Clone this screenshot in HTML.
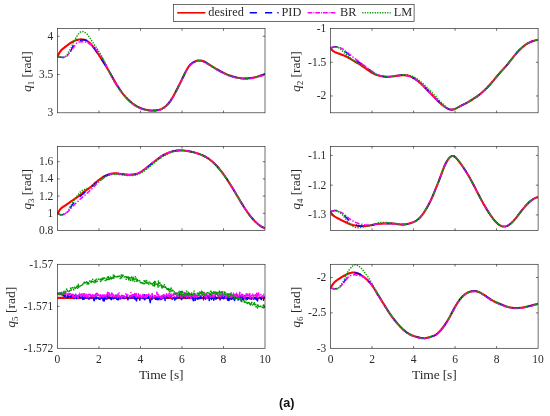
<!DOCTYPE html>
<html><head><meta charset="utf-8"><title>figure</title>
<style>html,body{margin:0;padding:0;background:#fff;}svg{display:block;}text{font-family:"Liberation Serif", "DejaVu Serif", serif;fill:#2b2b2b;}</style>
</head><body>
<svg width="550" height="416" viewBox="0 0 550 416">
<rect x="0" y="0" width="550" height="416" fill="#ffffff"/>
<clipPath id="cq1"><rect x="57.25" y="28.40" width="207.95" height="84.60"/></clipPath>
<g clip-path="url(#cq1)" fill="none" stroke-linejoin="round">
<path d="M57.45,56.54 L58.25,54.92 L59.05,53.37 L59.85,52.01 L60.66,50.94 L61.46,50.09 L62.26,49.33 L63.06,48.62 L63.86,47.95 L64.66,47.31 L65.46,46.70 L66.26,46.09 L67.07,45.48 L67.87,44.88 L68.67,44.29 L69.47,43.72 L70.27,43.20 L71.07,42.71 L71.87,42.24 L72.68,41.78 L73.48,41.34 L74.28,40.94 L75.08,40.60 L75.88,40.32 L76.68,40.09 L77.48,39.89 L78.29,39.71 L79.09,39.56 L79.89,39.46 L80.69,39.41 L81.49,39.41 L82.29,39.47 L83.09,39.58 L83.89,39.71 L84.70,39.86 L85.50,40.08 L86.30,40.41 L87.10,40.89 L87.90,41.48 L88.70,42.14 L89.50,42.85 L90.31,43.59 L91.11,44.40 L91.91,45.29 L92.71,46.26 L93.51,47.29 L94.31,48.38 L95.11,49.51 L95.91,50.67 L96.72,51.86 L97.52,53.06 L98.32,54.27 L99.12,55.46 L99.92,56.66 L100.72,57.86 L101.52,59.09 L102.33,60.33 L103.13,61.58 L103.93,62.85 L104.73,64.14 L105.53,65.44 L106.33,66.76 L107.13,68.09 L107.94,69.43 L108.74,70.80 L109.54,72.17 L110.34,73.57 L111.14,74.97 L111.94,76.38 L112.74,77.79 L113.54,79.20 L114.35,80.60 L115.15,81.99 L115.95,83.36 L116.75,84.70 L117.55,86.02 L118.35,87.30 L119.15,88.54 L119.96,89.74 L120.76,90.89 L121.56,92.00 L122.36,93.07 L123.16,94.09 L123.96,95.08 L124.76,96.02 L125.56,96.93 L126.37,97.80 L127.17,98.64 L127.97,99.44 L128.77,100.21 L129.57,100.95 L130.37,101.65 L131.17,102.33 L131.98,102.97 L132.78,103.59 L133.58,104.17 L134.38,104.73 L135.18,105.25 L135.98,105.75 L136.78,106.22 L137.59,106.66 L138.39,107.07 L139.19,107.46 L139.99,107.82 L140.79,108.16 L141.59,108.47 L142.39,108.75 L143.19,109.02 L144.00,109.26 L144.80,109.47 L145.60,109.67 L146.40,109.84 L147.20,110.00 L148.00,110.13 L148.80,110.25 L149.61,110.35 L150.41,110.42 L151.21,110.48 L152.01,110.53 L152.81,110.55 L153.61,110.55 L154.41,110.53 L155.21,110.48 L156.02,110.40 L156.82,110.29 L157.62,110.15 L158.42,109.97 L159.22,109.75 L160.02,109.49 L160.82,109.19 L161.63,108.85 L162.43,108.45 L163.23,108.00 L164.03,107.49 L164.83,106.92 L165.63,106.29 L166.43,105.59 L167.24,104.81 L168.04,103.95 L168.84,103.02 L169.64,102.00 L170.44,100.89 L171.24,99.68 L172.04,98.40 L172.84,97.04 L173.65,95.62 L174.45,94.14 L175.25,92.63 L176.05,91.10 L176.85,89.55 L177.65,87.99 L178.45,86.41 L179.26,84.83 L180.06,83.23 L180.86,81.62 L181.66,79.99 L182.46,78.34 L183.26,76.67 L184.06,75.01 L184.86,73.36 L185.67,71.77 L186.47,70.25 L187.27,68.84 L188.07,67.55 L188.87,66.41 L189.67,65.43 L190.47,64.58 L191.28,63.85 L192.08,63.22 L192.88,62.68 L193.68,62.21 L194.48,61.79 L195.28,61.41 L196.08,61.09 L196.89,60.83 L197.69,60.63 L198.49,60.49 L199.29,60.43 L200.09,60.44 L200.89,60.53 L201.69,60.70 L202.49,60.93 L203.30,61.22 L204.10,61.56 L204.90,61.94 L205.70,62.37 L206.50,62.83 L207.30,63.31 L208.10,63.81 L208.91,64.33 L209.71,64.85 L210.51,65.36 L211.31,65.88 L212.11,66.38 L212.91,66.88 L213.71,67.38 L214.51,67.87 L215.32,68.35 L216.12,68.83 L216.92,69.30 L217.72,69.77 L218.52,70.22 L219.32,70.67 L220.12,71.11 L220.93,71.54 L221.73,71.96 L222.53,72.38 L223.33,72.78 L224.13,73.17 L224.93,73.55 L225.73,73.92 L226.54,74.28 L227.34,74.62 L228.14,74.95 L228.94,75.26 L229.74,75.56 L230.54,75.84 L231.34,76.11 L232.14,76.36 L232.95,76.59 L233.75,76.81 L234.55,77.02 L235.35,77.21 L236.15,77.38 L236.95,77.55 L237.75,77.70 L238.56,77.84 L239.36,77.96 L240.16,78.07 L240.96,78.17 L241.76,78.26 L242.56,78.33 L243.36,78.38 L244.16,78.42 L244.97,78.45 L245.77,78.46 L246.57,78.44 L247.37,78.41 L248.17,78.37 L248.97,78.30 L249.77,78.22 L250.58,78.12 L251.38,78.00 L252.18,77.87 L252.98,77.73 L253.78,77.57 L254.58,77.39 L255.38,77.21 L256.19,77.00 L256.99,76.79 L257.79,76.56 L258.59,76.32 L259.39,76.07 L260.19,75.81 L260.99,75.54 L261.79,75.26 L262.60,74.97 L263.40,74.67 L264.20,74.36 L265.00,74.05" stroke="#ff0000" stroke-width="2.10"/>
<path d="M57.45,56.54 L58.25,56.75 L59.05,56.94 L59.85,57.11 L60.66,57.25 L61.46,57.35 L62.26,57.42 L63.06,57.40 L63.86,57.28 L64.66,57.09 L65.46,56.91 L66.26,56.54 L67.07,55.78 L67.87,54.86 L68.67,53.84 L69.47,52.65 L70.27,51.40 L71.07,50.05 L71.87,48.50 L72.68,47.01 L73.48,45.75 L74.28,44.62 L75.08,43.64 L75.88,42.86 L76.68,42.22 L77.48,41.68 L78.29,41.23 L79.09,40.88 L79.89,40.60 L80.69,40.34 L81.49,40.12 L82.29,39.96 L83.09,39.86 L83.89,39.86 L84.70,39.97 L85.50,40.23 L86.30,40.60 L87.10,41.08 L87.90,41.63 L88.70,42.24 L89.50,42.89 L90.31,43.57 L91.11,44.33 L91.91,45.20 L92.71,46.15 L93.51,47.18 L94.31,48.28 L95.11,49.42 L95.91,50.60 L96.72,51.81 L97.52,53.03 L98.32,54.25 L99.12,55.46 L99.92,56.66 L100.72,57.87 L101.52,59.10 L102.33,60.34 L103.13,61.59 L103.93,62.86 L104.73,64.15 L105.53,65.45 L106.33,66.76 L107.13,68.09 L107.94,69.44 L108.74,70.80 L109.54,72.17 L110.34,73.56 L111.14,74.97 L111.94,76.38 L112.74,77.79 L113.54,79.20 L114.35,80.60 L115.15,81.99 L115.95,83.36 L116.75,84.70 L117.55,86.02 L118.35,87.30 L119.15,88.54 L119.96,89.74 L120.76,90.89 L121.56,92.00 L122.36,93.07 L123.16,94.09 L123.96,95.08 L124.76,96.02 L125.56,96.93 L126.37,97.80 L127.17,98.64 L127.97,99.44 L128.77,100.21 L129.57,100.95 L130.37,101.65 L131.17,102.33 L131.98,102.97 L132.78,103.59 L133.58,104.17 L134.38,104.73 L135.18,105.25 L135.98,105.75 L136.78,106.22 L137.59,106.66 L138.39,107.07 L139.19,107.46 L139.99,107.82 L140.79,108.16 L141.59,108.47 L142.39,108.75 L143.19,109.02 L144.00,109.26 L144.80,109.47 L145.60,109.67 L146.40,109.84 L147.20,110.00 L148.00,110.13 L148.80,110.25 L149.61,110.35 L150.41,110.42 L151.21,110.48 L152.01,110.53 L152.81,110.55 L153.61,110.55 L154.41,110.53 L155.21,110.48 L156.02,110.40 L156.82,110.29 L157.62,110.15 L158.42,109.97 L159.22,109.75 L160.02,109.49 L160.82,109.19 L161.63,108.85 L162.43,108.45 L163.23,108.00 L164.03,107.49 L164.83,106.92 L165.63,106.29 L166.43,105.59 L167.24,104.81 L168.04,103.95 L168.84,103.02 L169.64,102.00 L170.44,100.89 L171.24,99.68 L172.04,98.40 L172.84,97.04 L173.65,95.62 L174.45,94.14 L175.25,92.63 L176.05,91.10 L176.85,89.55 L177.65,87.99 L178.45,86.41 L179.26,84.83 L180.06,83.23 L180.86,81.62 L181.66,79.99 L182.46,78.34 L183.26,76.67 L184.06,75.01 L184.86,73.36 L185.67,71.77 L186.47,70.25 L187.27,68.84 L188.07,67.55 L188.87,66.41 L189.67,65.43 L190.47,64.58 L191.28,63.85 L192.08,63.22 L192.88,62.68 L193.68,62.21 L194.48,61.79 L195.28,61.41 L196.08,61.09 L196.89,60.83 L197.69,60.63 L198.49,60.49 L199.29,60.43 L200.09,60.44 L200.89,60.53 L201.69,60.70 L202.49,60.93 L203.30,61.22 L204.10,61.56 L204.90,61.94 L205.70,62.37 L206.50,62.83 L207.30,63.31 L208.10,63.81 L208.91,64.33 L209.71,64.85 L210.51,65.36 L211.31,65.88 L212.11,66.38 L212.91,66.88 L213.71,67.38 L214.51,67.87 L215.32,68.35 L216.12,68.83 L216.92,69.30 L217.72,69.77 L218.52,70.22 L219.32,70.67 L220.12,71.11 L220.93,71.54 L221.73,71.96 L222.53,72.38 L223.33,72.78 L224.13,73.17 L224.93,73.55 L225.73,73.92 L226.54,74.28 L227.34,74.62 L228.14,74.95 L228.94,75.26 L229.74,75.56 L230.54,75.84 L231.34,76.11 L232.14,76.36 L232.95,76.59 L233.75,76.81 L234.55,77.02 L235.35,77.21 L236.15,77.38 L236.95,77.55 L237.75,77.70 L238.56,77.84 L239.36,77.96 L240.16,78.07 L240.96,78.17 L241.76,78.26 L242.56,78.33 L243.36,78.38 L244.16,78.42 L244.97,78.45 L245.77,78.46 L246.57,78.44 L247.37,78.41 L248.17,78.37 L248.97,78.30 L249.77,78.22 L250.58,78.12 L251.38,78.00 L252.18,77.87 L252.98,77.73 L253.78,77.57 L254.58,77.39 L255.38,77.21 L256.19,77.00 L256.99,76.79 L257.79,76.56 L258.59,76.32 L259.39,76.07 L260.19,75.81 L260.99,75.54 L261.79,75.26 L262.60,74.97 L263.40,74.67 L264.20,74.36 L265.00,74.05" stroke="#0000ff" stroke-width="1.50" stroke-dasharray="7.2 8.1"/>
<path d="M57.45,56.54 L58.25,56.74 L59.05,56.93 L59.85,57.09 L60.66,57.22 L61.46,57.33 L62.26,57.42 L63.06,57.44 L63.86,57.38 L64.66,57.24 L65.46,57.06 L66.26,56.69 L67.07,55.96 L67.87,54.97 L68.67,53.88 L69.47,52.87 L70.27,51.91 L71.07,50.93 L71.87,49.91 L72.68,48.78 L73.48,47.53 L74.28,46.26 L75.08,45.09 L75.88,44.08 L76.68,43.26 L77.48,42.69 L78.29,42.37 L79.09,42.13 L79.89,41.92 L80.69,41.79 L81.49,41.74 L82.29,41.73 L83.09,41.75 L83.89,41.81 L84.70,41.91 L85.50,42.07 L86.30,42.31 L87.10,42.63 L87.90,43.02 L88.70,43.47 L89.50,43.95 L90.31,44.45 L91.11,44.96 L91.91,45.49 L92.71,46.11 L93.51,46.82 L94.31,47.61 L95.11,48.44 L95.91,49.32 L96.72,50.22 L97.52,51.16 L98.32,52.16 L99.12,53.23 L99.92,54.36 L100.72,55.55 L101.52,56.79 L102.33,58.08 L103.13,59.42 L103.93,60.78 L104.73,62.20 L105.53,63.76 L106.33,65.43 L107.13,67.19 L107.94,68.99 L108.74,70.80 L109.54,72.58 L110.34,74.28 L111.14,75.92 L111.94,77.47 L112.74,78.96 L113.54,80.39 L114.35,81.76 L115.15,83.08 L115.95,84.35 L116.75,85.58 L117.55,86.77 L118.35,87.93 L119.15,89.07 L119.96,90.18 L120.76,91.27 L121.56,92.34 L122.36,93.39 L123.16,94.41 L123.96,95.40 L124.76,96.36 L125.56,97.30 L126.37,98.20 L127.17,99.07 L127.97,99.90 L128.77,100.70 L129.57,101.46 L130.37,102.18 L131.17,102.87 L131.98,103.52 L132.78,104.13 L133.58,104.71 L134.38,105.26 L135.18,105.78 L135.98,106.27 L136.78,106.73 L137.59,107.17 L138.39,107.57 L139.19,107.96 L139.99,108.31 L140.79,108.65 L141.59,108.95 L142.39,109.24 L143.19,109.50 L144.00,109.75 L144.80,109.96 L145.60,110.16 L146.40,110.34 L147.20,110.49 L148.00,110.63 L148.80,110.75 L149.61,110.84 L150.41,110.92 L151.21,110.98 L152.01,111.02 L152.81,111.05 L153.61,111.05 L154.41,111.02 L155.21,110.97 L156.02,110.90 L156.82,110.79 L157.62,110.64 L158.42,110.46 L159.22,110.25 L160.02,109.99 L160.82,109.69 L161.63,109.34 L162.43,108.95 L163.23,108.50 L164.03,107.99 L164.83,107.42 L165.63,106.79 L166.43,106.08 L167.24,105.31 L168.04,104.45 L168.84,103.52 L169.64,102.49 L170.44,101.38 L171.24,100.18 L172.04,98.89 L172.84,97.53 L173.65,96.11 L174.45,94.64 L175.25,93.13 L176.05,91.60 L176.85,90.04 L177.65,88.48 L178.45,86.91 L179.26,85.33 L180.06,83.73 L180.86,82.12 L181.66,80.49 L182.46,78.84 L183.26,77.17 L184.06,75.50 L184.86,73.86 L185.67,72.27 L186.47,70.75 L187.27,69.34 L188.07,68.05 L188.87,66.91 L189.67,65.92 L190.47,65.08 L191.28,64.35 L192.08,63.72 L192.88,63.18 L193.68,62.70 L194.48,62.28 L195.28,61.91 L196.08,61.59 L196.89,61.33 L197.69,61.12 L198.49,60.99 L199.29,60.93 L200.09,60.94 L200.89,61.03 L201.69,61.19 L202.49,61.42 L203.30,61.71 L204.10,62.05 L204.90,62.44 L205.70,62.87 L206.50,63.33 L207.30,63.81 L208.10,64.31 L208.91,64.83 L209.71,65.34 L210.51,65.86 L211.31,66.37 L212.11,66.88 L212.91,67.38 L213.71,67.88 L214.51,68.37 L215.32,68.85 L216.12,69.33 L216.92,69.80 L217.72,70.26 L218.52,70.72 L219.32,71.17 L220.12,71.61 L220.93,72.04 L221.73,72.46 L222.53,72.88 L223.33,73.28 L224.13,73.67 L224.93,74.05 L225.73,74.42 L226.54,74.77 L227.34,75.12 L228.14,75.44 L228.94,75.76 L229.74,76.05 L230.54,76.34 L231.34,76.60 L232.14,76.85 L232.95,77.09 L233.75,77.31 L234.55,77.51 L235.35,77.71 L236.15,77.88 L236.95,78.05 L237.75,78.20 L238.56,78.33 L239.36,78.46 L240.16,78.57 L240.96,78.67 L241.76,78.75 L242.56,78.82 L243.36,78.88 L244.16,78.92 L244.97,78.95 L245.77,78.95 L246.57,78.94 L247.37,78.91 L248.17,78.86 L248.97,78.80 L249.77,78.72 L250.58,78.62 L251.38,78.50 L252.18,78.37 L252.98,78.23 L253.78,78.07 L254.58,77.89 L255.38,77.70 L256.19,77.50 L256.99,77.29 L257.79,77.06 L258.59,76.82 L259.39,76.57 L260.19,76.31 L260.99,76.04 L261.79,75.76 L262.60,75.47 L263.40,75.17 L264.20,74.86 L265.00,74.54" stroke="#ff00ff" stroke-width="1.50" stroke-dasharray="4.8 1.6 1.4 1.6"/>
<path d="M57.45,56.54 L58.25,56.73 L59.05,56.91 L59.85,57.07 L60.66,57.19 L61.46,57.30 L62.26,57.35 L63.06,57.28 L63.86,57.15 L64.66,56.96 L65.46,56.50 L66.26,55.72 L67.07,54.65 L67.87,53.31 L68.67,51.87 L69.47,50.57 L70.27,49.27 L71.07,47.80 L71.87,46.06 L72.68,44.26 L73.48,42.57 L74.28,40.95 L75.08,39.41 L75.88,37.98 L76.68,36.66 L77.48,35.40 L78.29,34.17 L79.09,33.17 L79.89,32.45 L80.69,31.92 L81.49,31.60 L82.29,31.51 L83.09,31.63 L83.89,31.90 L84.70,32.30 L85.50,32.81 L86.30,33.41 L87.10,34.14 L87.90,35.09 L88.70,36.22 L89.50,37.45 L90.31,38.69 L91.11,39.90 L91.91,41.08 L92.71,42.27 L93.51,43.49 L94.31,44.70 L95.11,45.89 L95.91,47.04 L96.72,48.17 L97.52,49.32 L98.32,50.53 L99.12,51.82 L99.92,53.17 L100.72,54.59 L101.52,56.07 L102.33,57.59 L103.13,59.16 L103.93,60.75 L104.73,62.37 L105.53,64.00 L106.33,65.65 L107.13,67.29 L107.94,68.92 L108.74,70.53 L109.54,72.12 L110.34,73.68 L111.14,75.20 L111.94,76.69 L112.74,78.14 L113.54,79.56 L114.35,80.95 L115.15,82.30 L115.95,83.62 L116.75,84.90 L117.55,86.15 L118.35,87.37 L119.15,88.56 L119.96,89.71 L120.76,90.83 L121.56,91.92 L122.36,92.97 L123.16,94.00 L123.96,94.99 L124.76,95.94 L125.56,96.86 L126.37,97.75 L127.17,98.60 L127.97,99.42 L128.77,100.21 L129.57,100.96 L130.37,101.67 L131.17,102.35 L131.98,103.00 L132.78,103.61 L133.58,104.19 L134.38,104.75 L135.18,105.27 L135.98,105.76 L136.78,106.23 L137.59,106.67 L138.39,107.08 L139.19,107.46 L139.99,107.82 L140.79,108.15 L141.59,108.46 L142.39,108.75 L143.19,109.01 L144.00,109.25 L144.80,109.47 L145.60,109.67 L146.40,109.84 L147.20,110.00 L148.00,110.13 L148.80,110.25 L149.61,110.35 L150.41,110.42 L151.21,110.48 L152.01,110.53 L152.81,110.55 L153.61,110.55 L154.41,110.53 L155.21,110.48 L156.02,110.40 L156.82,110.29 L157.62,110.15 L158.42,109.97 L159.22,109.75 L160.02,109.49 L160.82,109.19 L161.63,108.85 L162.43,108.45 L163.23,108.00 L164.03,107.49 L164.83,106.92 L165.63,106.29 L166.43,105.59 L167.24,104.81 L168.04,103.95 L168.84,103.02 L169.64,102.00 L170.44,100.89 L171.24,99.68 L172.04,98.40 L172.84,97.04 L173.65,95.62 L174.45,94.14 L175.25,92.63 L176.05,91.10 L176.85,89.55 L177.65,87.99 L178.45,86.41 L179.26,84.83 L180.06,83.23 L180.86,81.62 L181.66,79.99 L182.46,78.34 L183.26,76.67 L184.06,75.01 L184.86,73.36 L185.67,71.77 L186.47,70.25 L187.27,68.84 L188.07,67.55 L188.87,66.41 L189.67,65.43 L190.47,64.58 L191.28,63.85 L192.08,63.22 L192.88,62.68 L193.68,62.21 L194.48,61.79 L195.28,61.41 L196.08,61.09 L196.89,60.83 L197.69,60.63 L198.49,60.49 L199.29,60.43 L200.09,60.44 L200.89,60.53 L201.69,60.70 L202.49,60.93 L203.30,61.22 L204.10,61.56 L204.90,61.94 L205.70,62.37 L206.50,62.83 L207.30,63.31 L208.10,63.81 L208.91,64.33 L209.71,64.85 L210.51,65.36 L211.31,65.88 L212.11,66.38 L212.91,66.88 L213.71,67.38 L214.51,67.87 L215.32,68.35 L216.12,68.83 L216.92,69.30 L217.72,69.77 L218.52,70.22 L219.32,70.67 L220.12,71.11 L220.93,71.54 L221.73,71.96 L222.53,72.38 L223.33,72.78 L224.13,73.17 L224.93,73.55 L225.73,73.92 L226.54,74.28 L227.34,74.62 L228.14,74.95 L228.94,75.26 L229.74,75.56 L230.54,75.84 L231.34,76.11 L232.14,76.36 L232.95,76.59 L233.75,76.81 L234.55,77.02 L235.35,77.21 L236.15,77.38 L236.95,77.55 L237.75,77.70 L238.56,77.84 L239.36,77.96 L240.16,78.07 L240.96,78.17 L241.76,78.26 L242.56,78.33 L243.36,78.38 L244.16,78.42 L244.97,78.45 L245.77,78.46 L246.57,78.44 L247.37,78.41 L248.17,78.37 L248.97,78.30 L249.77,78.22 L250.58,78.12 L251.38,78.00 L252.18,77.87 L252.98,77.73 L253.78,77.57 L254.58,77.39 L255.38,77.21 L256.19,77.00 L256.99,76.79 L257.79,76.56 L258.59,76.32 L259.39,76.07 L260.19,75.81 L260.99,75.54 L261.79,75.26 L262.60,74.97 L263.40,74.67 L264.20,74.36 L265.00,74.05" stroke="#009a00" stroke-width="1.50" stroke-dasharray="1.3 1.3"/>
</g>
<g stroke="#262626" stroke-width="0.67" fill="none">
<rect x="57.45" y="28.60" width="207.55" height="84.20"/>
<path d="M98.96,112.80 v-2.20 M98.96,28.60 v2.20 M140.47,112.80 v-2.20 M140.47,28.60 v2.20 M181.98,112.80 v-2.20 M181.98,28.60 v2.20 M223.49,112.80 v-2.20 M223.49,28.60 v2.20 M57.45,74.53 h2.20 M265.00,74.53 h-2.20 M57.45,36.25 h2.20 M265.00,36.25 h-2.20 "/>
</g>
<text x="53.25" y="116.30" font-size="11.5" text-anchor="end">3</text>
<text x="53.25" y="78.03" font-size="11.5" text-anchor="end">3.5</text>
<text x="53.25" y="39.75" font-size="11.5" text-anchor="end">4</text>
<text transform="translate(31.14,71.70) rotate(-90)" font-size="13.5" text-anchor="middle"><tspan font-style="italic">q</tspan><tspan font-size="9" dy="2.5">1</tspan><tspan dy="-2.5"> [rad]</tspan></text>
<clipPath id="cq2"><rect x="330.30" y="28.40" width="208.00" height="84.60"/></clipPath>
<g clip-path="url(#cq2)" fill="none" stroke-linejoin="round">
<path d="M330.50,48.03 L331.30,49.02 L332.10,49.99 L332.90,50.83 L333.71,51.44 L334.51,51.89 L335.31,52.25 L336.11,52.57 L336.91,52.88 L337.71,53.18 L338.52,53.47 L339.32,53.77 L340.12,54.09 L340.92,54.40 L341.72,54.70 L342.52,55.01 L343.32,55.31 L344.13,55.63 L344.93,55.95 L345.73,56.30 L346.53,56.68 L347.33,57.09 L348.13,57.52 L348.94,57.98 L349.74,58.44 L350.54,58.92 L351.34,59.39 L352.14,59.86 L352.94,60.33 L353.74,60.80 L354.55,61.28 L355.35,61.76 L356.15,62.24 L356.95,62.73 L357.75,63.22 L358.55,63.72 L359.36,64.22 L360.16,64.72 L360.96,65.23 L361.76,65.75 L362.56,66.27 L363.36,66.79 L364.16,67.33 L364.97,67.88 L365.77,68.46 L366.57,69.04 L367.37,69.63 L368.17,70.20 L368.97,70.76 L369.78,71.28 L370.58,71.78 L371.38,72.28 L372.18,72.77 L372.98,73.24 L373.78,73.68 L374.58,74.08 L375.39,74.44 L376.19,74.74 L376.99,75.02 L377.79,75.27 L378.59,75.50 L379.39,75.71 L380.20,75.90 L381.00,76.07 L381.80,76.23 L382.60,76.36 L383.40,76.48 L384.20,76.59 L385.01,76.67 L385.81,76.73 L386.61,76.78 L387.41,76.80 L388.21,76.79 L389.01,76.77 L389.81,76.72 L390.62,76.65 L391.42,76.57 L392.22,76.47 L393.02,76.36 L393.82,76.25 L394.62,76.12 L395.43,76.00 L396.23,75.87 L397.03,75.75 L397.83,75.63 L398.63,75.52 L399.43,75.42 L400.23,75.33 L401.04,75.26 L401.84,75.21 L402.64,75.18 L403.44,75.18 L404.24,75.21 L405.04,75.26 L405.85,75.35 L406.65,75.48 L407.45,75.64 L408.25,75.83 L409.05,76.06 L409.85,76.33 L410.65,76.63 L411.46,76.98 L412.26,77.36 L413.06,77.77 L413.86,78.23 L414.66,78.72 L415.46,79.25 L416.27,79.82 L417.07,80.42 L417.87,81.04 L418.67,81.70 L419.47,82.38 L420.27,83.08 L421.07,83.81 L421.88,84.55 L422.68,85.32 L423.48,86.10 L424.28,86.89 L425.08,87.69 L425.88,88.51 L426.69,89.33 L427.49,90.16 L428.29,91.00 L429.09,91.84 L429.89,92.68 L430.69,93.53 L431.49,94.37 L432.30,95.22 L433.10,96.06 L433.90,96.89 L434.70,97.72 L435.50,98.54 L436.30,99.35 L437.11,100.15 L437.91,100.94 L438.71,101.71 L439.51,102.46 L440.31,103.19 L441.11,103.90 L441.91,104.59 L442.72,105.24 L443.52,105.88 L444.32,106.48 L445.12,107.05 L445.92,107.58 L446.72,108.07 L447.53,108.50 L448.33,108.88 L449.13,109.18 L449.93,109.42 L450.73,109.57 L451.53,109.63 L452.33,109.59 L453.14,109.46 L453.94,109.24 L454.74,108.96 L455.54,108.62 L456.34,108.23 L457.14,107.81 L457.95,107.37 L458.75,106.92 L459.55,106.48 L460.35,106.05 L461.15,105.64 L461.95,105.24 L462.75,104.85 L463.56,104.46 L464.36,104.08 L465.16,103.68 L465.96,103.28 L466.76,102.85 L467.56,102.41 L468.37,101.96 L469.17,101.49 L469.97,101.00 L470.77,100.51 L471.57,100.00 L472.37,99.49 L473.17,98.98 L473.98,98.46 L474.78,97.93 L475.58,97.39 L476.38,96.85 L477.18,96.28 L477.98,95.71 L478.79,95.11 L479.59,94.49 L480.39,93.85 L481.19,93.19 L481.99,92.50 L482.79,91.80 L483.59,91.07 L484.40,90.32 L485.20,89.54 L486.00,88.75 L486.80,87.95 L487.60,87.12 L488.40,86.27 L489.21,85.41 L490.01,84.53 L490.81,83.63 L491.61,82.71 L492.41,81.78 L493.21,80.83 L494.02,79.87 L494.82,78.90 L495.62,77.92 L496.42,76.94 L497.22,75.97 L498.02,75.01 L498.82,74.07 L499.63,73.14 L500.43,72.25 L501.23,71.37 L502.03,70.50 L502.83,69.63 L503.63,68.77 L504.44,67.89 L505.24,67.00 L506.04,66.09 L506.84,65.15 L507.64,64.18 L508.44,63.19 L509.24,62.19 L510.05,61.18 L510.85,60.15 L511.65,59.13 L512.45,58.10 L513.25,57.09 L514.05,56.08 L514.86,55.09 L515.66,54.12 L516.46,53.18 L517.26,52.27 L518.06,51.39 L518.86,50.54 L519.66,49.73 L520.47,48.95 L521.27,48.21 L522.07,47.50 L522.87,46.82 L523.67,46.18 L524.47,45.57 L525.28,44.99 L526.08,44.44 L526.88,43.93 L527.68,43.44 L528.48,42.99 L529.28,42.57 L530.08,42.17 L530.89,41.81 L531.69,41.48 L532.49,41.18 L533.29,40.90 L534.09,40.66 L534.89,40.44 L535.70,40.25 L536.50,40.09 L537.30,39.96 L538.10,39.85" stroke="#ff0000" stroke-width="2.10"/>
<path d="M330.50,48.03 L331.30,47.73 L332.10,47.46 L332.90,47.24 L333.71,47.06 L334.51,46.93 L335.31,46.85 L336.11,46.82 L336.91,46.87 L337.71,47.02 L338.52,47.26 L339.32,47.58 L340.12,47.95 L340.92,48.38 L341.72,48.83 L342.52,49.30 L343.32,49.87 L344.13,50.55 L344.93,51.28 L345.73,51.99 L346.53,52.65 L347.33,53.30 L348.13,53.95 L348.94,54.59 L349.74,55.23 L350.54,55.86 L351.34,56.49 L352.14,57.11 L352.94,57.72 L353.74,58.33 L354.55,58.93 L355.35,59.52 L356.15,60.11 L356.95,60.70 L357.75,61.28 L358.55,61.86 L359.36,62.44 L360.16,63.01 L360.96,63.58 L361.76,64.15 L362.56,64.72 L363.36,65.29 L364.16,65.87 L364.97,66.47 L365.77,67.07 L366.57,67.68 L367.37,68.28 L368.17,68.89 L368.97,69.48 L369.78,70.05 L370.58,70.62 L371.38,71.20 L372.18,71.78 L372.98,72.35 L373.78,72.90 L374.58,73.41 L375.39,73.86 L376.19,74.25 L376.99,74.60 L377.79,74.92 L378.59,75.22 L379.39,75.48 L380.20,75.72 L381.00,75.94 L381.80,76.13 L382.60,76.29 L383.40,76.44 L384.20,76.56 L385.01,76.65 L385.81,76.72 L386.61,76.77 L387.41,76.79 L388.21,76.79 L389.01,76.77 L389.81,76.72 L390.62,76.65 L391.42,76.57 L392.22,76.47 L393.02,76.36 L393.82,76.25 L394.62,76.13 L395.43,76.00 L396.23,75.87 L397.03,75.75 L397.83,75.63 L398.63,75.52 L399.43,75.42 L400.23,75.33 L401.04,75.26 L401.84,75.21 L402.64,75.18 L403.44,75.18 L404.24,75.21 L405.04,75.26 L405.85,75.35 L406.65,75.48 L407.45,75.64 L408.25,75.83 L409.05,76.06 L409.85,76.33 L410.65,76.63 L411.46,76.98 L412.26,77.36 L413.06,77.77 L413.86,78.23 L414.66,78.72 L415.46,79.25 L416.27,79.82 L417.07,80.42 L417.87,81.04 L418.67,81.70 L419.47,82.38 L420.27,83.08 L421.07,83.81 L421.88,84.55 L422.68,85.32 L423.48,86.10 L424.28,86.89 L425.08,87.69 L425.88,88.51 L426.69,89.33 L427.49,90.16 L428.29,91.00 L429.09,91.84 L429.89,92.68 L430.69,93.53 L431.49,94.37 L432.30,95.22 L433.10,96.06 L433.90,96.89 L434.70,97.72 L435.50,98.54 L436.30,99.35 L437.11,100.15 L437.91,100.94 L438.71,101.71 L439.51,102.46 L440.31,103.19 L441.11,103.90 L441.91,104.59 L442.72,105.24 L443.52,105.88 L444.32,106.48 L445.12,107.05 L445.92,107.58 L446.72,108.07 L447.53,108.50 L448.33,108.88 L449.13,109.18 L449.93,109.42 L450.73,109.57 L451.53,109.63 L452.33,109.59 L453.14,109.46 L453.94,109.24 L454.74,108.96 L455.54,108.62 L456.34,108.23 L457.14,107.81 L457.95,107.37 L458.75,106.92 L459.55,106.48 L460.35,106.05 L461.15,105.64 L461.95,105.24 L462.75,104.85 L463.56,104.46 L464.36,104.08 L465.16,103.68 L465.96,103.28 L466.76,102.85 L467.56,102.41 L468.37,101.96 L469.17,101.49 L469.97,101.00 L470.77,100.51 L471.57,100.00 L472.37,99.49 L473.17,98.98 L473.98,98.46 L474.78,97.93 L475.58,97.39 L476.38,96.85 L477.18,96.28 L477.98,95.71 L478.79,95.11 L479.59,94.49 L480.39,93.85 L481.19,93.19 L481.99,92.50 L482.79,91.80 L483.59,91.07 L484.40,90.32 L485.20,89.54 L486.00,88.75 L486.80,87.95 L487.60,87.12 L488.40,86.27 L489.21,85.41 L490.01,84.53 L490.81,83.63 L491.61,82.71 L492.41,81.78 L493.21,80.83 L494.02,79.87 L494.82,78.90 L495.62,77.92 L496.42,76.94 L497.22,75.97 L498.02,75.01 L498.82,74.07 L499.63,73.14 L500.43,72.25 L501.23,71.37 L502.03,70.50 L502.83,69.63 L503.63,68.77 L504.44,67.89 L505.24,67.00 L506.04,66.09 L506.84,65.15 L507.64,64.18 L508.44,63.19 L509.24,62.19 L510.05,61.18 L510.85,60.15 L511.65,59.13 L512.45,58.10 L513.25,57.09 L514.05,56.08 L514.86,55.09 L515.66,54.12 L516.46,53.18 L517.26,52.27 L518.06,51.39 L518.86,50.54 L519.66,49.73 L520.47,48.95 L521.27,48.21 L522.07,47.50 L522.87,46.82 L523.67,46.18 L524.47,45.57 L525.28,44.99 L526.08,44.44 L526.88,43.93 L527.68,43.44 L528.48,42.99 L529.28,42.57 L530.08,42.17 L530.89,41.81 L531.69,41.48 L532.49,41.18 L533.29,40.90 L534.09,40.66 L534.89,40.44 L535.70,40.25 L536.50,40.09 L537.30,39.96 L538.10,39.85" stroke="#0000ff" stroke-width="1.50" stroke-dasharray="7.2 8.1"/>
<path d="M330.50,48.03 L331.30,47.73 L332.10,47.47 L332.90,47.24 L333.71,47.06 L334.51,46.92 L335.31,46.83 L336.11,46.78 L336.91,46.82 L337.71,46.94 L338.52,47.14 L339.32,47.40 L340.12,47.72 L340.92,48.08 L341.72,48.46 L342.52,48.86 L343.32,49.35 L344.13,49.95 L344.93,50.61 L345.73,51.26 L346.53,51.90 L347.33,52.54 L348.13,53.18 L348.94,53.84 L349.74,54.49 L350.54,55.15 L351.34,55.79 L352.14,56.43 L352.94,57.05 L353.74,57.67 L354.55,58.28 L355.35,58.90 L356.15,59.50 L356.95,60.11 L357.75,60.71 L358.55,61.31 L359.36,61.91 L360.16,62.50 L360.96,63.09 L361.76,63.67 L362.56,64.26 L363.36,64.85 L364.16,65.45 L364.97,66.05 L365.77,66.66 L366.57,67.28 L367.37,67.89 L368.17,68.50 L368.97,69.10 L369.78,69.68 L370.58,70.26 L371.38,70.85 L372.18,71.44 L372.98,72.02 L373.78,72.58 L374.58,73.10 L375.39,73.57 L376.19,73.98 L376.99,74.36 L377.79,74.70 L378.59,75.02 L379.39,75.31 L380.20,75.57 L381.00,75.81 L381.80,76.02 L382.60,76.20 L383.40,76.37 L384.20,76.50 L385.01,76.61 L385.81,76.70 L386.61,76.76 L387.41,76.79 L388.21,76.79 L389.01,76.77 L389.81,76.73 L390.62,76.66 L391.42,76.58 L392.22,76.48 L393.02,76.37 L393.82,76.25 L394.62,76.13 L395.43,76.00 L396.23,75.87 L397.03,75.74 L397.83,75.63 L398.63,75.51 L399.43,75.41 L400.23,75.33 L401.04,75.26 L401.84,75.21 L402.64,75.18 L403.44,75.18 L404.24,75.21 L405.04,75.26 L405.85,75.35 L406.65,75.48 L407.45,75.64 L408.25,75.83 L409.05,76.06 L409.85,76.33 L410.65,76.63 L411.46,76.98 L412.26,77.36 L413.06,77.77 L413.86,78.23 L414.66,78.72 L415.46,79.25 L416.27,79.82 L417.07,80.42 L417.87,81.04 L418.67,81.70 L419.47,82.38 L420.27,83.08 L421.07,83.81 L421.88,84.55 L422.68,85.32 L423.48,86.10 L424.28,86.89 L425.08,87.69 L425.88,88.51 L426.69,89.33 L427.49,90.16 L428.29,91.00 L429.09,91.84 L429.89,92.68 L430.69,93.53 L431.49,94.37 L432.30,95.22 L433.10,96.06 L433.90,96.89 L434.70,97.72 L435.50,98.54 L436.30,99.35 L437.11,100.15 L437.91,100.94 L438.71,101.71 L439.51,102.46 L440.31,103.19 L441.11,103.90 L441.91,104.59 L442.72,105.24 L443.52,105.88 L444.32,106.48 L445.12,107.05 L445.92,107.58 L446.72,108.07 L447.53,108.50 L448.33,108.88 L449.13,109.18 L449.93,109.42 L450.73,109.57 L451.53,109.63 L452.33,109.59 L453.14,109.46 L453.94,109.24 L454.74,108.96 L455.54,108.62 L456.34,108.23 L457.14,107.81 L457.95,107.37 L458.75,106.92 L459.55,106.48 L460.35,106.05 L461.15,105.64 L461.95,105.24 L462.75,104.85 L463.56,104.46 L464.36,104.08 L465.16,103.68 L465.96,103.28 L466.76,102.85 L467.56,102.41 L468.37,101.96 L469.17,101.49 L469.97,101.00 L470.77,100.51 L471.57,100.00 L472.37,99.49 L473.17,98.98 L473.98,98.46 L474.78,97.93 L475.58,97.39 L476.38,96.85 L477.18,96.28 L477.98,95.71 L478.79,95.11 L479.59,94.49 L480.39,93.85 L481.19,93.19 L481.99,92.50 L482.79,91.80 L483.59,91.07 L484.40,90.32 L485.20,89.54 L486.00,88.75 L486.80,87.95 L487.60,87.12 L488.40,86.27 L489.21,85.41 L490.01,84.53 L490.81,83.63 L491.61,82.71 L492.41,81.78 L493.21,80.83 L494.02,79.87 L494.82,78.90 L495.62,77.92 L496.42,76.94 L497.22,75.97 L498.02,75.01 L498.82,74.07 L499.63,73.14 L500.43,72.25 L501.23,71.37 L502.03,70.50 L502.83,69.63 L503.63,68.77 L504.44,67.89 L505.24,67.00 L506.04,66.09 L506.84,65.15 L507.64,64.18 L508.44,63.19 L509.24,62.19 L510.05,61.18 L510.85,60.15 L511.65,59.13 L512.45,58.10 L513.25,57.09 L514.05,56.08 L514.86,55.09 L515.66,54.12 L516.46,53.18 L517.26,52.27 L518.06,51.39 L518.86,50.54 L519.66,49.73 L520.47,48.95 L521.27,48.21 L522.07,47.50 L522.87,46.82 L523.67,46.18 L524.47,45.57 L525.28,44.99 L526.08,44.44 L526.88,43.93 L527.68,43.44 L528.48,42.99 L529.28,42.57 L530.08,42.17 L530.89,41.81 L531.69,41.48 L532.49,41.18 L533.29,40.90 L534.09,40.66 L534.89,40.44 L535.70,40.25 L536.50,40.09 L537.30,39.96 L538.10,39.85" stroke="#ff00ff" stroke-width="1.50" stroke-dasharray="4.8 1.6 1.4 1.6"/>
<path d="M330.50,48.03 L331.30,47.75 L332.10,47.50 L332.90,47.30 L333.71,47.14 L334.51,47.03 L335.31,46.98 L336.11,46.97 L336.91,47.05 L337.71,47.27 L338.52,47.62 L339.32,48.08 L340.12,48.60 L340.92,49.20 L341.72,49.96 L342.52,50.96 L343.32,51.92 L344.13,52.73 L344.93,53.46 L345.73,54.17 L346.53,54.85 L347.33,55.52 L348.13,56.19 L348.94,56.86 L349.74,57.53 L350.54,58.21 L351.34,58.86 L352.14,59.49 L352.94,60.08 L353.74,60.60 L354.55,61.09 L355.35,61.55 L356.15,61.99 L356.95,62.43 L357.75,62.88 L358.55,63.35 L359.36,63.82 L360.16,64.29 L360.96,64.76 L361.76,65.24 L362.56,65.72 L363.36,66.22 L364.16,66.72 L364.97,67.24 L365.77,67.78 L366.57,68.33 L367.37,68.89 L368.17,69.44 L368.97,69.99 L369.78,70.51 L370.58,71.03 L371.38,71.55 L372.18,72.08 L372.98,72.60 L373.78,73.09 L374.58,73.55 L375.39,73.96 L376.19,74.31 L376.99,74.63 L377.79,74.91 L378.59,75.17 L379.39,75.41 L380.20,75.62 L381.00,75.80 L381.80,75.97 L382.60,76.11 L383.40,76.23 L384.20,76.33 L385.01,76.40 L385.81,76.46 L386.61,76.49 L387.41,76.50 L388.21,76.49 L389.01,76.45 L389.81,76.40 L390.62,76.32 L391.42,76.24 L392.22,76.14 L393.02,76.03 L393.82,75.91 L394.62,75.79 L395.43,75.66 L396.23,75.54 L397.03,75.41 L397.83,75.29 L398.63,75.18 L399.43,75.07 L400.23,74.97 L401.04,74.89 L401.84,74.82 L402.64,74.77 L403.44,74.74 L404.24,74.72 L405.04,74.74 L405.85,74.77 L406.65,74.84 L407.45,74.93 L408.25,75.06 L409.05,75.21 L409.85,75.40 L410.65,75.63 L411.46,75.89 L412.26,76.19 L413.06,76.54 L413.86,76.92 L414.66,77.35 L415.46,77.81 L416.27,78.32 L417.07,78.85 L417.87,79.42 L418.67,80.02 L419.47,80.65 L420.27,81.30 L421.07,81.97 L421.88,82.67 L422.68,83.38 L423.48,84.10 L424.28,84.84 L425.08,85.59 L425.88,86.35 L426.69,87.13 L427.49,87.91 L428.29,88.70 L429.09,89.50 L429.89,90.32 L430.69,91.14 L431.49,91.97 L432.30,92.81 L433.10,93.66 L433.90,94.52 L434.70,95.38 L435.50,96.26 L436.30,97.13 L437.11,98.01 L437.91,98.88 L438.71,99.75 L439.51,100.61 L440.31,101.46 L441.11,102.29 L441.91,103.11 L442.72,103.90 L443.52,104.66 L444.32,105.40 L445.12,106.11 L445.92,106.78 L446.72,107.41 L447.53,107.97 L448.33,108.47 L449.13,108.89 L449.93,109.23 L450.73,109.47 L451.53,109.60 L452.33,109.62 L453.14,109.52 L453.94,109.33 L454.74,109.05 L455.54,108.71 L456.34,108.31 L457.14,107.87 L457.95,107.42 L458.75,106.95 L459.55,106.49 L460.35,106.04 L461.15,105.62 L461.95,105.22 L462.75,104.83 L463.56,104.45 L464.36,104.06 L465.16,103.67 L465.96,103.27 L466.76,102.86 L467.56,102.42 L468.37,101.96 L469.17,101.49 L469.97,101.01 L470.77,100.51 L471.57,100.01 L472.37,99.49 L473.17,98.98 L473.98,98.46 L474.78,97.93 L475.58,97.39 L476.38,96.84 L477.18,96.28 L477.98,95.71 L478.79,95.11 L479.59,94.49 L480.39,93.85 L481.19,93.19 L481.99,92.50 L482.79,91.80 L483.59,91.07 L484.40,90.32 L485.20,89.54 L486.00,88.75 L486.80,87.95 L487.60,87.12 L488.40,86.27 L489.21,85.41 L490.01,84.53 L490.81,83.63 L491.61,82.71 L492.41,81.78 L493.21,80.83 L494.02,79.87 L494.82,78.90 L495.62,77.92 L496.42,76.94 L497.22,75.97 L498.02,75.01 L498.82,74.07 L499.63,73.14 L500.43,72.25 L501.23,71.36 L502.03,70.50 L502.83,69.63 L503.63,68.77 L504.44,67.89 L505.24,67.00 L506.04,66.09 L506.84,65.15 L507.64,64.18 L508.44,63.19 L509.24,62.19 L510.05,61.18 L510.85,60.15 L511.65,59.13 L512.45,58.10 L513.25,57.09 L514.05,56.08 L514.86,55.09 L515.66,54.12 L516.46,53.18 L517.26,52.27 L518.06,51.39 L518.86,50.54 L519.66,49.73 L520.47,48.95 L521.27,48.21 L522.07,47.50 L522.87,46.82 L523.67,46.18 L524.47,45.57 L525.28,44.99 L526.08,44.44 L526.88,43.93 L527.68,43.44 L528.48,42.99 L529.28,42.57 L530.08,42.17 L530.89,41.81 L531.69,41.48 L532.49,41.18 L533.29,40.90 L534.09,40.66 L534.89,40.44 L535.70,40.25 L536.50,40.09 L537.30,39.96 L538.10,39.85" stroke="#009a00" stroke-width="1.50" stroke-dasharray="1.3 1.3"/>
</g>
<g stroke="#262626" stroke-width="0.67" fill="none">
<rect x="330.50" y="28.60" width="207.60" height="84.20"/>
<path d="M372.02,112.80 v-2.20 M372.02,28.60 v2.20 M413.54,112.80 v-2.20 M413.54,28.60 v2.20 M455.06,112.80 v-2.20 M455.06,28.60 v2.20 M496.58,112.80 v-2.20 M496.58,28.60 v2.20 M330.50,95.96 h2.20 M538.10,95.96 h-2.20 M330.50,62.28 h2.20 M538.10,62.28 h-2.20 "/>
</g>
<text x="326.30" y="99.46" font-size="11.5" text-anchor="end">-2</text>
<text x="326.30" y="65.78" font-size="11.5" text-anchor="end">-1.5</text>
<text x="326.30" y="32.10" font-size="11.5" text-anchor="end">-1</text>
<text transform="translate(300.25,71.70) rotate(-90)" font-size="13.5" text-anchor="middle"><tspan font-style="italic">q</tspan><tspan font-size="9" dy="2.5">2</tspan><tspan dy="-2.5"> [rad]</tspan></text>
<clipPath id="cq3"><rect x="57.25" y="146.20" width="207.95" height="84.50"/></clipPath>
<g clip-path="url(#cq3)" fill="none" stroke-linejoin="round">
<path d="M57.45,213.87 L58.25,212.42 L59.05,211.02 L59.85,209.78 L60.66,208.81 L61.46,208.07 L62.26,207.45 L63.06,206.88 L63.86,206.33 L64.66,205.81 L65.46,205.29 L66.26,204.77 L67.07,204.22 L67.87,203.66 L68.67,203.10 L69.47,202.54 L70.27,201.98 L71.07,201.42 L71.87,200.86 L72.68,200.30 L73.48,199.74 L74.28,199.19 L75.08,198.64 L75.88,198.09 L76.68,197.53 L77.48,196.97 L78.29,196.40 L79.09,195.81 L79.89,195.19 L80.69,194.55 L81.49,193.90 L82.29,193.24 L83.09,192.58 L83.89,191.93 L84.70,191.30 L85.50,190.70 L86.30,190.14 L87.10,189.59 L87.90,189.06 L88.70,188.53 L89.50,187.98 L90.31,187.40 L91.11,186.79 L91.91,186.12 L92.71,185.40 L93.51,184.65 L94.31,183.88 L95.11,183.12 L95.91,182.39 L96.72,181.71 L97.52,181.06 L98.32,180.43 L99.12,179.80 L99.92,179.18 L100.72,178.58 L101.52,178.01 L102.33,177.47 L103.13,176.97 L103.93,176.52 L104.73,176.12 L105.53,175.74 L106.33,175.38 L107.13,175.04 L107.94,174.73 L108.74,174.44 L109.54,174.18 L110.34,173.95 L111.14,173.75 L111.94,173.58 L112.74,173.46 L113.54,173.37 L114.35,173.33 L115.15,173.33 L115.95,173.36 L116.75,173.41 L117.55,173.49 L118.35,173.59 L119.15,173.70 L119.96,173.82 L120.76,173.94 L121.56,174.06 L122.36,174.18 L123.16,174.28 L123.96,174.37 L124.76,174.46 L125.56,174.53 L126.37,174.59 L127.17,174.63 L127.97,174.66 L128.77,174.68 L129.57,174.68 L130.37,174.67 L131.17,174.64 L131.98,174.59 L132.78,174.51 L133.58,174.42 L134.38,174.29 L135.18,174.13 L135.98,173.94 L136.78,173.70 L137.59,173.42 L138.39,173.10 L139.19,172.73 L139.99,172.32 L140.79,171.86 L141.59,171.37 L142.39,170.85 L143.19,170.30 L144.00,169.73 L144.80,169.14 L145.60,168.53 L146.40,167.91 L147.20,167.29 L148.00,166.65 L148.80,166.01 L149.61,165.36 L150.41,164.71 L151.21,164.05 L152.01,163.40 L152.81,162.75 L153.61,162.11 L154.41,161.46 L155.21,160.83 L156.02,160.21 L156.82,159.59 L157.62,158.99 L158.42,158.40 L159.22,157.83 L160.02,157.27 L160.82,156.73 L161.63,156.21 L162.43,155.71 L163.23,155.24 L164.03,154.79 L164.83,154.36 L165.63,153.96 L166.43,153.58 L167.24,153.22 L168.04,152.89 L168.84,152.58 L169.64,152.29 L170.44,152.02 L171.24,151.77 L172.04,151.54 L172.84,151.33 L173.65,151.14 L174.45,150.97 L175.25,150.82 L176.05,150.69 L176.85,150.59 L177.65,150.50 L178.45,150.44 L179.26,150.40 L180.06,150.39 L180.86,150.39 L181.66,150.42 L182.46,150.46 L183.26,150.51 L184.06,150.59 L184.86,150.67 L185.67,150.77 L186.47,150.88 L187.27,151.00 L188.07,151.13 L188.87,151.26 L189.67,151.41 L190.47,151.56 L191.28,151.72 L192.08,151.90 L192.88,152.08 L193.68,152.28 L194.48,152.49 L195.28,152.71 L196.08,152.94 L196.89,153.18 L197.69,153.44 L198.49,153.72 L199.29,154.00 L200.09,154.30 L200.89,154.62 L201.69,154.96 L202.49,155.31 L203.30,155.68 L204.10,156.08 L204.90,156.49 L205.70,156.93 L206.50,157.39 L207.30,157.88 L208.10,158.40 L208.91,158.94 L209.71,159.52 L210.51,160.12 L211.31,160.76 L212.11,161.44 L212.91,162.14 L213.71,162.88 L214.51,163.65 L215.32,164.46 L216.12,165.29 L216.92,166.16 L217.72,167.06 L218.52,167.98 L219.32,168.93 L220.12,169.91 L220.93,170.92 L221.73,171.96 L222.53,173.01 L223.33,174.10 L224.13,175.21 L224.93,176.34 L225.73,177.49 L226.54,178.67 L227.34,179.86 L228.14,181.08 L228.94,182.31 L229.74,183.56 L230.54,184.83 L231.34,186.12 L232.14,187.42 L232.95,188.73 L233.75,190.06 L234.55,191.40 L235.35,192.74 L236.15,194.10 L236.95,195.45 L237.75,196.81 L238.56,198.16 L239.36,199.51 L240.16,200.85 L240.96,202.17 L241.76,203.48 L242.56,204.78 L243.36,206.06 L244.16,207.31 L244.97,208.54 L245.77,209.74 L246.57,210.91 L247.37,212.06 L248.17,213.17 L248.97,214.26 L249.77,215.31 L250.58,216.34 L251.38,217.33 L252.18,218.28 L252.98,219.20 L253.78,220.09 L254.58,220.94 L255.38,221.75 L256.19,222.52 L256.99,223.25 L257.79,223.94 L258.59,224.59 L259.39,225.20 L260.19,225.76 L260.99,226.28 L261.79,226.76 L262.60,227.18 L263.40,227.56 L264.20,227.90 L265.00,228.18" stroke="#ff0000" stroke-width="2.10"/>
<path d="M57.45,213.87 L58.25,214.15 L59.05,214.39 L59.85,214.57 L60.66,214.69 L61.46,214.73 L62.26,214.70 L63.06,214.55 L63.86,214.29 L64.66,213.92 L65.46,213.45 L66.26,212.90 L67.07,212.27 L67.87,211.40 L68.67,210.26 L69.47,209.00 L70.27,207.78 L71.07,206.65 L71.87,205.54 L72.68,204.43 L73.48,203.37 L74.28,202.38 L75.08,201.46 L75.88,200.57 L76.68,199.72 L77.48,198.90 L78.29,198.11 L79.09,197.35 L79.89,196.62 L80.69,195.91 L81.49,195.21 L82.29,194.53 L83.09,193.85 L83.89,193.18 L84.70,192.50 L85.50,191.83 L86.30,191.16 L87.10,190.50 L87.90,189.85 L88.70,189.19 L89.50,188.52 L90.31,187.84 L91.11,187.15 L91.91,186.42 L92.71,185.65 L93.51,184.87 L94.31,184.09 L95.11,183.31 L95.91,182.57 L96.72,181.87 L97.52,181.21 L98.32,180.55 L99.12,179.90 L99.92,179.26 L100.72,178.64 L101.52,178.05 L102.33,177.50 L103.13,176.98 L103.93,176.53 L104.73,176.12 L105.53,175.74 L106.33,175.38 L107.13,175.04 L107.94,174.72 L108.74,174.43 L109.54,174.17 L110.34,173.94 L111.14,173.74 L111.94,173.58 L112.74,173.46 L113.54,173.37 L114.35,173.33 L115.15,173.33 L115.95,173.36 L116.75,173.41 L117.55,173.49 L118.35,173.59 L119.15,173.70 L119.96,173.82 L120.76,173.94 L121.56,174.06 L122.36,174.18 L123.16,174.28 L123.96,174.37 L124.76,174.46 L125.56,174.53 L126.37,174.59 L127.17,174.63 L127.97,174.66 L128.77,174.68 L129.57,174.68 L130.37,174.67 L131.17,174.64 L131.98,174.59 L132.78,174.51 L133.58,174.42 L134.38,174.29 L135.18,174.13 L135.98,173.94 L136.78,173.70 L137.59,173.42 L138.39,173.10 L139.19,172.73 L139.99,172.32 L140.79,171.86 L141.59,171.37 L142.39,170.85 L143.19,170.30 L144.00,169.73 L144.80,169.14 L145.60,168.53 L146.40,167.91 L147.20,167.29 L148.00,166.65 L148.80,166.01 L149.61,165.36 L150.41,164.71 L151.21,164.05 L152.01,163.40 L152.81,162.75 L153.61,162.11 L154.41,161.46 L155.21,160.83 L156.02,160.21 L156.82,159.59 L157.62,158.99 L158.42,158.40 L159.22,157.83 L160.02,157.27 L160.82,156.73 L161.63,156.21 L162.43,155.71 L163.23,155.24 L164.03,154.79 L164.83,154.36 L165.63,153.96 L166.43,153.58 L167.24,153.22 L168.04,152.89 L168.84,152.58 L169.64,152.29 L170.44,152.02 L171.24,151.77 L172.04,151.54 L172.84,151.33 L173.65,151.14 L174.45,150.97 L175.25,150.82 L176.05,150.69 L176.85,150.59 L177.65,150.50 L178.45,150.44 L179.26,150.40 L180.06,150.39 L180.86,150.39 L181.66,150.42 L182.46,150.46 L183.26,150.51 L184.06,150.59 L184.86,150.67 L185.67,150.77 L186.47,150.88 L187.27,151.00 L188.07,151.13 L188.87,151.26 L189.67,151.41 L190.47,151.56 L191.28,151.72 L192.08,151.90 L192.88,152.08 L193.68,152.28 L194.48,152.49 L195.28,152.71 L196.08,152.94 L196.89,153.18 L197.69,153.44 L198.49,153.72 L199.29,154.00 L200.09,154.30 L200.89,154.62 L201.69,154.96 L202.49,155.31 L203.30,155.68 L204.10,156.08 L204.90,156.49 L205.70,156.93 L206.50,157.39 L207.30,157.88 L208.10,158.40 L208.91,158.94 L209.71,159.52 L210.51,160.12 L211.31,160.76 L212.11,161.44 L212.91,162.14 L213.71,162.88 L214.51,163.65 L215.32,164.46 L216.12,165.29 L216.92,166.16 L217.72,167.06 L218.52,167.98 L219.32,168.93 L220.12,169.91 L220.93,170.92 L221.73,171.96 L222.53,173.01 L223.33,174.10 L224.13,175.21 L224.93,176.34 L225.73,177.49 L226.54,178.67 L227.34,179.86 L228.14,181.08 L228.94,182.31 L229.74,183.56 L230.54,184.83 L231.34,186.12 L232.14,187.42 L232.95,188.73 L233.75,190.06 L234.55,191.40 L235.35,192.74 L236.15,194.10 L236.95,195.45 L237.75,196.81 L238.56,198.16 L239.36,199.51 L240.16,200.85 L240.96,202.17 L241.76,203.48 L242.56,204.78 L243.36,206.06 L244.16,207.31 L244.97,208.54 L245.77,209.74 L246.57,210.91 L247.37,212.06 L248.17,213.17 L248.97,214.26 L249.77,215.31 L250.58,216.34 L251.38,217.33 L252.18,218.28 L252.98,219.20 L253.78,220.09 L254.58,220.94 L255.38,221.75 L256.19,222.52 L256.99,223.25 L257.79,223.94 L258.59,224.59 L259.39,225.20 L260.19,225.76 L260.99,226.28 L261.79,226.76 L262.60,227.18 L263.40,227.56 L264.20,227.90 L265.00,228.18" stroke="#0000ff" stroke-width="1.50" stroke-dasharray="7.2 8.1"/>
<path d="M57.45,213.87 L58.25,214.15 L59.05,214.40 L59.85,214.58 L60.66,214.71 L61.46,214.75 L62.26,214.70 L63.06,214.53 L63.86,214.27 L64.66,213.91 L65.46,213.46 L66.26,212.96 L67.07,212.41 L67.87,211.75 L68.67,210.97 L69.47,210.11 L70.27,209.18 L71.07,208.24 L71.87,207.31 L72.68,206.44 L73.48,205.62 L74.28,204.83 L75.08,204.04 L75.88,203.26 L76.68,202.49 L77.48,201.73 L78.29,200.98 L79.09,200.24 L79.89,199.52 L80.69,198.81 L81.49,198.11 L82.29,197.41 L83.09,196.72 L83.89,196.02 L84.70,195.32 L85.50,194.61 L86.30,193.90 L87.10,193.19 L87.90,192.48 L88.70,191.76 L89.50,191.04 L90.31,190.30 L91.11,189.54 L91.91,188.75 L92.71,187.92 L93.51,187.07 L94.31,186.22 L95.11,185.38 L95.91,184.56 L96.72,183.79 L97.52,183.06 L98.32,182.34 L99.12,181.63 L99.92,180.94 L100.72,180.26 L101.52,179.60 L102.33,178.98 L103.13,178.40 L103.93,177.86 L104.73,177.37 L105.53,176.89 L106.33,176.43 L107.13,175.98 L107.94,175.56 L108.74,175.17 L109.54,174.81 L110.34,174.48 L111.14,174.19 L111.94,173.94 L112.74,173.74 L113.54,173.59 L114.35,173.49 L115.15,173.44 L115.95,173.43 L116.75,173.46 L117.55,173.52 L118.35,173.61 L119.15,173.71 L119.96,173.83 L120.76,173.95 L121.56,174.06 L122.36,174.18 L123.16,174.28 L123.96,174.37 L124.76,174.46 L125.56,174.53 L126.37,174.59 L127.17,174.63 L127.97,174.66 L128.77,174.68 L129.57,174.68 L130.37,174.67 L131.17,174.64 L131.98,174.59 L132.78,174.51 L133.58,174.42 L134.38,174.29 L135.18,174.13 L135.98,173.94 L136.78,173.70 L137.59,173.42 L138.39,173.10 L139.19,172.73 L139.99,172.32 L140.79,171.86 L141.59,171.37 L142.39,170.85 L143.19,170.30 L144.00,169.73 L144.80,169.14 L145.60,168.53 L146.40,167.91 L147.20,167.29 L148.00,166.65 L148.80,166.01 L149.61,165.36 L150.41,164.71 L151.21,164.05 L152.01,163.40 L152.81,162.75 L153.61,162.11 L154.41,161.46 L155.21,160.83 L156.02,160.21 L156.82,159.59 L157.62,158.99 L158.42,158.40 L159.22,157.83 L160.02,157.27 L160.82,156.73 L161.63,156.21 L162.43,155.71 L163.23,155.24 L164.03,154.79 L164.83,154.36 L165.63,153.96 L166.43,153.58 L167.24,153.22 L168.04,152.89 L168.84,152.58 L169.64,152.29 L170.44,152.02 L171.24,151.77 L172.04,151.54 L172.84,151.33 L173.65,151.14 L174.45,150.97 L175.25,150.82 L176.05,150.69 L176.85,150.59 L177.65,150.50 L178.45,150.44 L179.26,150.40 L180.06,150.39 L180.86,150.39 L181.66,150.42 L182.46,150.46 L183.26,150.51 L184.06,150.59 L184.86,150.67 L185.67,150.77 L186.47,150.88 L187.27,151.00 L188.07,151.13 L188.87,151.26 L189.67,151.41 L190.47,151.56 L191.28,151.72 L192.08,151.90 L192.88,152.08 L193.68,152.28 L194.48,152.49 L195.28,152.71 L196.08,152.94 L196.89,153.18 L197.69,153.44 L198.49,153.72 L199.29,154.00 L200.09,154.30 L200.89,154.62 L201.69,154.96 L202.49,155.31 L203.30,155.68 L204.10,156.08 L204.90,156.49 L205.70,156.93 L206.50,157.39 L207.30,157.88 L208.10,158.40 L208.91,158.94 L209.71,159.52 L210.51,160.12 L211.31,160.76 L212.11,161.44 L212.91,162.14 L213.71,162.88 L214.51,163.65 L215.32,164.46 L216.12,165.29 L216.92,166.16 L217.72,167.06 L218.52,167.98 L219.32,168.93 L220.12,169.91 L220.93,170.92 L221.73,171.96 L222.53,173.01 L223.33,174.10 L224.13,175.21 L224.93,176.34 L225.73,177.49 L226.54,178.67 L227.34,179.86 L228.14,181.08 L228.94,182.31 L229.74,183.56 L230.54,184.83 L231.34,186.12 L232.14,187.42 L232.95,188.73 L233.75,190.06 L234.55,191.40 L235.35,192.74 L236.15,194.10 L236.95,195.45 L237.75,196.81 L238.56,198.16 L239.36,199.51 L240.16,200.85 L240.96,202.17 L241.76,203.48 L242.56,204.78 L243.36,206.06 L244.16,207.31 L244.97,208.54 L245.77,209.74 L246.57,210.91 L247.37,212.06 L248.17,213.17 L248.97,214.26 L249.77,215.31 L250.58,216.34 L251.38,217.33 L252.18,218.28 L252.98,219.20 L253.78,220.09 L254.58,220.94 L255.38,221.75 L256.19,222.52 L256.99,223.25 L257.79,223.94 L258.59,224.59 L259.39,225.20 L260.19,225.76 L260.99,226.28 L261.79,226.76 L262.60,227.18 L263.40,227.56 L264.20,227.90 L265.00,228.18" stroke="#ff00ff" stroke-width="1.50" stroke-dasharray="4.8 1.6 1.4 1.6"/>
<path d="M57.45,213.87 L58.25,214.13 L59.05,214.34 L59.85,214.49 L60.66,214.58 L61.46,214.61 L62.26,214.59 L63.06,214.46 L63.86,214.22 L64.66,213.86 L65.46,213.38 L66.26,212.82 L67.07,212.15 L67.87,211.14 L68.67,209.77 L69.47,208.22 L70.27,206.70 L71.07,205.31 L71.87,203.93 L72.68,202.56 L73.48,201.23 L74.28,199.96 L75.08,198.75 L75.88,197.59 L76.68,196.47 L77.48,195.42 L78.29,194.41 L79.09,193.42 L79.89,192.46 L80.69,191.63 L81.49,190.99 L82.29,190.52 L83.09,190.11 L83.89,189.73 L84.70,189.38 L85.50,189.04 L86.30,188.72 L87.10,188.42 L87.90,188.10 L88.70,187.74 L89.50,187.34 L90.31,186.91 L91.11,186.45 L91.91,185.97 L92.71,185.48 L93.51,184.96 L94.31,184.43 L95.11,183.87 L95.91,183.28 L96.72,182.69 L97.52,182.09 L98.32,181.51 L99.12,180.94 L99.92,180.36 L100.72,179.77 L101.52,179.17 L102.33,178.58 L103.13,178.03 L103.93,177.52 L104.73,177.07 L105.53,176.64 L106.33,176.25 L107.13,175.89 L107.94,175.55 L108.74,175.25 L109.54,174.98 L110.34,174.75 L111.14,174.55 L111.94,174.39 L112.74,174.26 L113.54,174.18 L114.35,174.14 L115.15,174.13 L115.95,174.16 L116.75,174.21 L117.55,174.29 L118.35,174.38 L119.15,174.49 L119.96,174.60 L120.76,174.72 L121.56,174.83 L122.36,174.94 L123.16,175.04 L123.96,175.12 L124.76,175.20 L125.56,175.27 L126.37,175.33 L127.17,175.38 L127.97,175.42 L128.77,175.45 L129.57,175.46 L130.37,175.47 L131.17,175.46 L131.98,175.44 L132.78,175.40 L133.58,175.34 L134.38,175.25 L135.18,175.14 L135.98,174.98 L136.78,174.79 L137.59,174.56 L138.39,174.27 L139.19,173.94 L139.99,173.56 L140.79,173.14 L141.59,172.68 L142.39,172.18 L143.19,171.66 L144.00,171.11 L144.80,170.53 L145.60,169.94 L146.40,169.33 L147.20,168.70 L148.00,168.07 L148.80,167.43 L149.61,166.78 L150.41,166.12 L151.21,165.46 L152.01,164.80 L152.81,164.14 L153.61,163.49 L154.41,162.84 L155.21,162.20 L156.02,161.57 L156.82,160.95 L157.62,160.34 L158.42,159.74 L159.22,159.15 L160.02,158.58 L160.82,158.02 L161.63,157.48 L162.43,156.96 L163.23,156.45 L164.03,155.96 L164.83,155.50 L165.63,155.05 L166.43,154.62 L167.24,154.21 L168.04,153.82 L168.84,153.45 L169.64,153.09 L170.44,152.76 L171.24,152.44 L172.04,152.14 L172.84,151.86 L173.65,151.60 L174.45,151.36 L175.25,151.14 L176.05,150.95 L176.85,150.78 L177.65,150.64 L178.45,150.54 L179.26,150.46 L180.06,150.42 L180.86,150.41 L181.66,150.42 L182.46,150.45 L183.26,150.50 L184.06,150.57 L184.86,150.66 L185.67,150.76 L186.47,150.88 L187.27,151.00 L188.07,151.13 L188.87,151.27 L189.67,151.42 L190.47,151.57 L191.28,151.73 L192.08,151.91 L192.88,152.09 L193.68,152.29 L194.48,152.50 L195.28,152.71 L196.08,152.94 L196.89,153.19 L197.69,153.45 L198.49,153.72 L199.29,154.00 L200.09,154.30 L200.89,154.62 L201.69,154.96 L202.49,155.31 L203.30,155.68 L204.10,156.07 L204.90,156.49 L205.70,156.93 L206.50,157.39 L207.30,157.88 L208.10,158.40 L208.91,158.94 L209.71,159.52 L210.51,160.12 L211.31,160.76 L212.11,161.44 L212.91,162.14 L213.71,162.88 L214.51,163.66 L215.32,164.46 L216.12,165.29 L216.92,166.16 L217.72,167.06 L218.52,167.98 L219.32,168.93 L220.12,169.91 L220.93,170.92 L221.73,171.96 L222.53,173.01 L223.33,174.10 L224.13,175.21 L224.93,176.34 L225.73,177.49 L226.54,178.67 L227.34,179.86 L228.14,181.08 L228.94,182.31 L229.74,183.56 L230.54,184.83 L231.34,186.12 L232.14,187.42 L232.95,188.73 L233.75,190.06 L234.55,191.40 L235.35,192.74 L236.15,194.10 L236.95,195.45 L237.75,196.81 L238.56,198.16 L239.36,199.51 L240.16,200.85 L240.96,202.17 L241.76,203.48 L242.56,204.78 L243.36,206.06 L244.16,207.31 L244.97,208.54 L245.77,209.74 L246.57,210.91 L247.37,212.06 L248.17,213.17 L248.97,214.26 L249.77,215.31 L250.58,216.34 L251.38,217.33 L252.18,218.28 L252.98,219.20 L253.78,220.09 L254.58,220.94 L255.38,221.75 L256.19,222.52 L256.99,223.25 L257.79,223.94 L258.59,224.59 L259.39,225.20 L260.19,225.76 L260.99,226.28 L261.79,226.76 L262.60,227.18 L263.40,227.56 L264.20,227.90 L265.00,228.18" stroke="#009a00" stroke-width="1.50" stroke-dasharray="1.3 1.3"/>
</g>
<g stroke="#262626" stroke-width="0.67" fill="none">
<rect x="57.45" y="146.40" width="207.55" height="84.10"/>
<path d="M98.96,230.50 v-2.20 M98.96,146.40 v2.20 M140.47,230.50 v-2.20 M140.47,146.40 v2.20 M181.98,230.50 v-2.20 M181.98,146.40 v2.20 M223.49,230.50 v-2.20 M223.49,146.40 v2.20 M57.45,213.30 h2.20 M265.00,213.30 h-2.20 M57.45,196.10 h2.20 M265.00,196.10 h-2.20 M57.45,178.90 h2.20 M265.00,178.90 h-2.20 M57.45,161.71 h2.20 M265.00,161.71 h-2.20 "/>
</g>
<text x="53.25" y="234.00" font-size="11.5" text-anchor="end">0.8</text>
<text x="53.25" y="216.80" font-size="11.5" text-anchor="end">1</text>
<text x="53.25" y="199.60" font-size="11.5" text-anchor="end">1.2</text>
<text x="53.25" y="182.40" font-size="11.5" text-anchor="end">1.4</text>
<text x="53.25" y="165.21" font-size="11.5" text-anchor="end">1.6</text>
<text transform="translate(31.14,189.45) rotate(-90)" font-size="13.5" text-anchor="middle"><tspan font-style="italic">q</tspan><tspan font-size="9" dy="2.5">3</tspan><tspan dy="-2.5"> [rad]</tspan></text>
<clipPath id="cq4"><rect x="330.30" y="146.20" width="208.00" height="84.50"/></clipPath>
<g clip-path="url(#cq4)" fill="none" stroke-linejoin="round">
<path d="M330.50,211.82 L331.30,213.05 L332.10,214.21 L332.90,215.17 L333.71,215.86 L334.51,216.40 L335.31,216.91 L336.11,217.39 L336.91,217.84 L337.71,218.27 L338.52,218.69 L339.32,219.11 L340.12,219.53 L340.92,219.94 L341.72,220.35 L342.52,220.75 L343.32,221.14 L344.13,221.52 L344.93,221.90 L345.73,222.29 L346.53,222.67 L347.33,223.05 L348.13,223.41 L348.94,223.73 L349.74,224.02 L350.54,224.28 L351.34,224.53 L352.14,224.76 L352.94,224.98 L353.74,225.17 L354.55,225.33 L355.35,225.45 L356.15,225.56 L356.95,225.67 L357.75,225.76 L358.55,225.85 L359.36,225.92 L360.16,225.98 L360.96,226.02 L361.76,226.05 L362.56,226.07 L363.36,226.09 L364.16,226.08 L364.97,226.07 L365.77,226.03 L366.57,225.97 L367.37,225.88 L368.17,225.76 L368.97,225.62 L369.78,225.47 L370.58,225.31 L371.38,225.16 L372.18,225.00 L372.98,224.84 L373.78,224.66 L374.58,224.48 L375.39,224.32 L376.19,224.17 L376.99,224.05 L377.79,223.96 L378.59,223.88 L379.39,223.81 L380.20,223.75 L381.00,223.69 L381.80,223.64 L382.60,223.59 L383.40,223.55 L384.20,223.50 L385.01,223.46 L385.81,223.43 L386.61,223.41 L387.41,223.39 L388.21,223.39 L389.01,223.40 L389.81,223.43 L390.62,223.46 L391.42,223.51 L392.22,223.57 L393.02,223.64 L393.82,223.72 L394.62,223.81 L395.43,223.91 L396.23,224.01 L397.03,224.12 L397.83,224.23 L398.63,224.32 L399.43,224.41 L400.23,224.49 L401.04,224.55 L401.84,224.58 L402.64,224.59 L403.44,224.57 L404.24,224.52 L405.04,224.43 L405.85,224.32 L406.65,224.18 L407.45,224.01 L408.25,223.82 L409.05,223.60 L409.85,223.37 L410.65,223.11 L411.46,222.84 L412.26,222.55 L413.06,222.24 L413.86,221.90 L414.66,221.52 L415.46,221.10 L416.27,220.62 L417.07,220.09 L417.87,219.48 L418.67,218.81 L419.47,218.05 L420.27,217.21 L421.07,216.29 L421.88,215.30 L422.68,214.25 L423.48,213.13 L424.28,211.94 L425.08,210.71 L425.88,209.42 L426.69,208.08 L427.49,206.69 L428.29,205.24 L429.09,203.73 L429.89,202.16 L430.69,200.51 L431.49,198.79 L432.30,196.99 L433.10,195.12 L433.90,193.17 L434.70,191.20 L435.50,189.22 L436.30,187.26 L437.11,185.30 L437.91,183.31 L438.71,181.29 L439.51,179.21 L440.31,177.05 L441.11,174.84 L441.91,172.62 L442.72,170.46 L443.52,168.39 L444.32,166.45 L445.12,164.67 L445.92,163.04 L446.72,161.56 L447.53,160.23 L448.33,159.05 L449.13,158.04 L449.93,157.20 L450.73,156.56 L451.53,156.13 L452.33,155.93 L453.14,155.98 L453.94,156.26 L454.74,156.75 L455.54,157.40 L456.34,158.19 L457.14,159.08 L457.95,160.04 L458.75,161.05 L459.55,162.09 L460.35,163.17 L461.15,164.29 L461.95,165.43 L462.75,166.60 L463.56,167.80 L464.36,169.01 L465.16,170.26 L465.96,171.52 L466.76,172.81 L467.56,174.13 L468.37,175.48 L469.17,176.86 L469.97,178.27 L470.77,179.71 L471.57,181.18 L472.37,182.68 L473.17,184.20 L473.98,185.73 L474.78,187.28 L475.58,188.84 L476.38,190.40 L477.18,191.96 L477.98,193.52 L478.79,195.07 L479.59,196.60 L480.39,198.12 L481.19,199.62 L481.99,201.10 L482.79,202.55 L483.59,203.98 L484.40,205.38 L485.20,206.76 L486.00,208.12 L486.80,209.44 L487.60,210.73 L488.40,212.00 L489.21,213.23 L490.01,214.43 L490.81,215.60 L491.61,216.73 L492.41,217.82 L493.21,218.87 L494.02,219.87 L494.82,220.81 L495.62,221.70 L496.42,222.53 L497.22,223.28 L498.02,223.97 L498.82,224.58 L499.63,225.12 L500.43,225.57 L501.23,225.94 L502.03,226.22 L502.83,226.42 L503.63,226.52 L504.44,226.54 L505.24,226.45 L506.04,226.28 L506.84,226.02 L507.64,225.67 L508.44,225.24 L509.24,224.73 L510.05,224.15 L510.85,223.50 L511.65,222.78 L512.45,222.00 L513.25,221.17 L514.05,220.28 L514.86,219.35 L515.66,218.37 L516.46,217.37 L517.26,216.34 L518.06,215.30 L518.86,214.24 L519.66,213.19 L520.47,212.14 L521.27,211.10 L522.07,210.07 L522.87,209.07 L523.67,208.09 L524.47,207.14 L525.28,206.22 L526.08,205.32 L526.88,204.46 L527.68,203.63 L528.48,202.84 L529.28,202.10 L530.08,201.39 L530.89,200.73 L531.69,200.11 L532.49,199.55 L533.29,199.04 L534.09,198.58 L534.89,198.18 L535.70,197.85 L536.50,197.57 L537.30,197.36 L538.10,197.21" stroke="#ff0000" stroke-width="2.10"/>
<path d="M330.50,211.82 L331.30,211.42 L332.10,211.09 L332.90,210.83 L333.71,210.65 L334.51,210.54 L335.31,210.50 L336.11,210.56 L336.91,210.72 L337.71,210.97 L338.52,211.30 L339.32,211.70 L340.12,212.14 L340.92,212.61 L341.72,213.14 L342.52,213.81 L343.32,214.58 L344.13,215.40 L344.93,216.21 L345.73,217.01 L346.53,217.83 L347.33,218.68 L348.13,219.52 L348.94,220.32 L349.74,221.04 L350.54,221.69 L351.34,222.33 L352.14,222.93 L352.94,223.49 L353.74,224.00 L354.55,224.42 L355.35,224.76 L356.15,225.06 L356.95,225.34 L357.75,225.60 L358.55,225.83 L359.36,226.02 L360.16,226.16 L360.96,226.24 L361.76,226.30 L362.56,226.35 L363.36,226.39 L364.16,226.41 L364.97,226.39 L365.77,226.34 L366.57,226.26 L367.37,226.13 L368.17,225.99 L368.97,225.83 L369.78,225.66 L370.58,225.48 L371.38,225.31 L372.18,225.14 L372.98,224.94 L373.78,224.74 L374.58,224.54 L375.39,224.35 L376.19,224.18 L376.99,224.05 L377.79,223.96 L378.59,223.87 L379.39,223.80 L380.20,223.74 L381.00,223.69 L381.80,223.64 L382.60,223.59 L383.40,223.55 L384.20,223.51 L385.01,223.47 L385.81,223.43 L386.61,223.41 L387.41,223.39 L388.21,223.39 L389.01,223.40 L389.81,223.42 L390.62,223.46 L391.42,223.51 L392.22,223.57 L393.02,223.64 L393.82,223.72 L394.62,223.81 L395.43,223.91 L396.23,224.01 L397.03,224.12 L397.83,224.23 L398.63,224.32 L399.43,224.41 L400.23,224.49 L401.04,224.55 L401.84,224.58 L402.64,224.59 L403.44,224.57 L404.24,224.52 L405.04,224.43 L405.85,224.32 L406.65,224.18 L407.45,224.01 L408.25,223.82 L409.05,223.60 L409.85,223.37 L410.65,223.11 L411.46,222.84 L412.26,222.55 L413.06,222.24 L413.86,221.90 L414.66,221.52 L415.46,221.10 L416.27,220.62 L417.07,220.09 L417.87,219.48 L418.67,218.81 L419.47,218.05 L420.27,217.21 L421.07,216.29 L421.88,215.30 L422.68,214.25 L423.48,213.13 L424.28,211.94 L425.08,210.71 L425.88,209.42 L426.69,208.08 L427.49,206.69 L428.29,205.24 L429.09,203.73 L429.89,202.16 L430.69,200.51 L431.49,198.79 L432.30,196.99 L433.10,195.12 L433.90,193.17 L434.70,191.20 L435.50,189.22 L436.30,187.26 L437.11,185.30 L437.91,183.31 L438.71,181.29 L439.51,179.21 L440.31,177.05 L441.11,174.84 L441.91,172.62 L442.72,170.46 L443.52,168.39 L444.32,166.45 L445.12,164.67 L445.92,163.04 L446.72,161.56 L447.53,160.23 L448.33,159.05 L449.13,158.04 L449.93,157.20 L450.73,156.56 L451.53,156.13 L452.33,155.93 L453.14,155.98 L453.94,156.26 L454.74,156.75 L455.54,157.40 L456.34,158.19 L457.14,159.08 L457.95,160.04 L458.75,161.05 L459.55,162.09 L460.35,163.17 L461.15,164.29 L461.95,165.43 L462.75,166.60 L463.56,167.80 L464.36,169.01 L465.16,170.26 L465.96,171.52 L466.76,172.81 L467.56,174.13 L468.37,175.48 L469.17,176.86 L469.97,178.27 L470.77,179.71 L471.57,181.18 L472.37,182.68 L473.17,184.20 L473.98,185.73 L474.78,187.28 L475.58,188.84 L476.38,190.40 L477.18,191.96 L477.98,193.52 L478.79,195.07 L479.59,196.60 L480.39,198.12 L481.19,199.62 L481.99,201.10 L482.79,202.55 L483.59,203.98 L484.40,205.38 L485.20,206.76 L486.00,208.12 L486.80,209.44 L487.60,210.73 L488.40,212.00 L489.21,213.23 L490.01,214.43 L490.81,215.60 L491.61,216.73 L492.41,217.82 L493.21,218.87 L494.02,219.87 L494.82,220.81 L495.62,221.70 L496.42,222.53 L497.22,223.28 L498.02,223.97 L498.82,224.58 L499.63,225.12 L500.43,225.57 L501.23,225.94 L502.03,226.22 L502.83,226.42 L503.63,226.52 L504.44,226.54 L505.24,226.45 L506.04,226.28 L506.84,226.02 L507.64,225.67 L508.44,225.24 L509.24,224.73 L510.05,224.15 L510.85,223.50 L511.65,222.78 L512.45,222.00 L513.25,221.17 L514.05,220.28 L514.86,219.35 L515.66,218.37 L516.46,217.37 L517.26,216.34 L518.06,215.30 L518.86,214.24 L519.66,213.19 L520.47,212.14 L521.27,211.10 L522.07,210.07 L522.87,209.07 L523.67,208.09 L524.47,207.14 L525.28,206.22 L526.08,205.32 L526.88,204.46 L527.68,203.63 L528.48,202.84 L529.28,202.10 L530.08,201.39 L530.89,200.73 L531.69,200.11 L532.49,199.55 L533.29,199.04 L534.09,198.58 L534.89,198.18 L535.70,197.85 L536.50,197.57 L537.30,197.36 L538.10,197.21" stroke="#0000ff" stroke-width="1.50" stroke-dasharray="7.2 8.1"/>
<path d="M330.50,211.82 L331.30,211.42 L332.10,211.09 L332.90,210.83 L333.71,210.65 L334.51,210.54 L335.31,210.50 L336.11,210.56 L336.91,210.72 L337.71,210.95 L338.52,211.24 L339.32,211.57 L340.12,211.93 L340.92,212.30 L341.72,212.71 L342.52,213.21 L343.32,213.77 L344.13,214.35 L344.93,214.95 L345.73,215.58 L346.53,216.26 L347.33,216.94 L348.13,217.61 L348.94,218.26 L349.74,218.85 L350.54,219.41 L351.34,219.95 L352.14,220.48 L352.94,220.98 L353.74,221.45 L354.55,221.87 L355.35,222.23 L356.15,222.57 L356.95,222.89 L357.75,223.19 L358.55,223.47 L359.36,223.71 L360.16,223.92 L360.96,224.10 L361.76,224.26 L362.56,224.42 L363.36,224.56 L364.16,224.69 L364.97,224.80 L365.77,224.88 L366.57,224.93 L367.37,224.97 L368.17,224.99 L368.97,225.00 L369.78,225.00 L370.58,224.97 L371.38,224.93 L372.18,224.85 L372.98,224.73 L373.78,224.59 L374.58,224.44 L375.39,224.29 L376.19,224.16 L376.99,224.05 L377.79,223.97 L378.59,223.89 L379.39,223.82 L380.20,223.76 L381.00,223.70 L381.80,223.64 L382.60,223.59 L383.40,223.55 L384.20,223.50 L385.01,223.46 L385.81,223.43 L386.61,223.41 L387.41,223.39 L388.21,223.39 L389.01,223.40 L389.81,223.43 L390.62,223.46 L391.42,223.51 L392.22,223.57 L393.02,223.64 L393.82,223.72 L394.62,223.81 L395.43,223.91 L396.23,224.01 L397.03,224.12 L397.83,224.22 L398.63,224.32 L399.43,224.41 L400.23,224.49 L401.04,224.55 L401.84,224.58 L402.64,224.59 L403.44,224.57 L404.24,224.52 L405.04,224.43 L405.85,224.32 L406.65,224.18 L407.45,224.01 L408.25,223.82 L409.05,223.60 L409.85,223.37 L410.65,223.11 L411.46,222.84 L412.26,222.55 L413.06,222.24 L413.86,221.90 L414.66,221.52 L415.46,221.10 L416.27,220.62 L417.07,220.09 L417.87,219.48 L418.67,218.81 L419.47,218.05 L420.27,217.21 L421.07,216.29 L421.88,215.30 L422.68,214.25 L423.48,213.13 L424.28,211.94 L425.08,210.71 L425.88,209.42 L426.69,208.08 L427.49,206.69 L428.29,205.24 L429.09,203.73 L429.89,202.16 L430.69,200.51 L431.49,198.79 L432.30,196.99 L433.10,195.12 L433.90,193.17 L434.70,191.20 L435.50,189.22 L436.30,187.26 L437.11,185.30 L437.91,183.31 L438.71,181.29 L439.51,179.21 L440.31,177.05 L441.11,174.84 L441.91,172.62 L442.72,170.46 L443.52,168.39 L444.32,166.45 L445.12,164.67 L445.92,163.04 L446.72,161.56 L447.53,160.23 L448.33,159.05 L449.13,158.04 L449.93,157.20 L450.73,156.56 L451.53,156.13 L452.33,155.93 L453.14,155.98 L453.94,156.26 L454.74,156.75 L455.54,157.40 L456.34,158.19 L457.14,159.08 L457.95,160.04 L458.75,161.05 L459.55,162.09 L460.35,163.17 L461.15,164.29 L461.95,165.43 L462.75,166.60 L463.56,167.80 L464.36,169.01 L465.16,170.26 L465.96,171.52 L466.76,172.81 L467.56,174.13 L468.37,175.48 L469.17,176.86 L469.97,178.27 L470.77,179.71 L471.57,181.18 L472.37,182.68 L473.17,184.20 L473.98,185.73 L474.78,187.28 L475.58,188.84 L476.38,190.40 L477.18,191.96 L477.98,193.52 L478.79,195.07 L479.59,196.60 L480.39,198.12 L481.19,199.62 L481.99,201.10 L482.79,202.55 L483.59,203.98 L484.40,205.38 L485.20,206.76 L486.00,208.12 L486.80,209.44 L487.60,210.73 L488.40,212.00 L489.21,213.23 L490.01,214.43 L490.81,215.60 L491.61,216.73 L492.41,217.82 L493.21,218.87 L494.02,219.87 L494.82,220.81 L495.62,221.70 L496.42,222.53 L497.22,223.28 L498.02,223.97 L498.82,224.58 L499.63,225.12 L500.43,225.57 L501.23,225.94 L502.03,226.22 L502.83,226.42 L503.63,226.52 L504.44,226.54 L505.24,226.45 L506.04,226.28 L506.84,226.02 L507.64,225.67 L508.44,225.24 L509.24,224.73 L510.05,224.15 L510.85,223.50 L511.65,222.78 L512.45,222.00 L513.25,221.17 L514.05,220.28 L514.86,219.35 L515.66,218.37 L516.46,217.37 L517.26,216.34 L518.06,215.30 L518.86,214.24 L519.66,213.19 L520.47,212.14 L521.27,211.10 L522.07,210.07 L522.87,209.07 L523.67,208.09 L524.47,207.14 L525.28,206.22 L526.08,205.32 L526.88,204.46 L527.68,203.63 L528.48,202.84 L529.28,202.10 L530.08,201.39 L530.89,200.73 L531.69,200.11 L532.49,199.55 L533.29,199.04 L534.09,198.58 L534.89,198.18 L535.70,197.85 L536.50,197.57 L537.30,197.36 L538.10,197.21" stroke="#ff00ff" stroke-width="1.50" stroke-dasharray="4.8 1.6 1.4 1.6"/>
<path d="M330.50,211.82 L331.30,211.47 L332.10,211.17 L332.90,210.94 L333.71,210.80 L334.51,210.73 L335.31,210.73 L336.11,210.81 L336.91,211.01 L337.71,211.33 L338.52,211.74 L339.32,212.22 L340.12,212.76 L340.92,213.33 L341.72,214.00 L342.52,214.89 L343.32,215.91 L344.13,216.95 L344.93,218.01 L345.73,219.11 L346.53,220.23 L347.33,221.27 L348.13,222.22 L348.94,223.11 L349.74,223.92 L350.54,224.63 L351.34,225.22 L352.14,225.77 L352.94,226.31 L353.74,226.77 L354.55,227.11 L355.35,227.33 L356.15,227.48 L356.95,227.59 L357.75,227.66 L358.55,227.64 L359.36,227.57 L360.16,227.49 L360.96,227.39 L361.76,227.27 L362.56,227.13 L363.36,226.99 L364.16,226.83 L364.97,226.66 L365.77,226.47 L366.57,226.25 L367.37,226.03 L368.17,225.81 L368.97,225.58 L369.78,225.35 L370.58,225.11 L371.38,224.87 L372.18,224.62 L372.98,224.38 L373.78,224.14 L374.58,223.90 L375.39,223.65 L376.19,223.41 L376.99,223.19 L377.79,223.01 L378.59,222.86 L379.39,222.74 L380.20,222.65 L381.00,222.57 L381.80,222.53 L382.60,222.50 L383.40,222.48 L384.20,222.48 L385.01,222.50 L385.81,222.52 L386.61,222.56 L387.41,222.61 L388.21,222.66 L389.01,222.72 L389.81,222.79 L390.62,222.86 L391.42,222.95 L392.22,223.04 L393.02,223.13 L393.82,223.24 L394.62,223.36 L395.43,223.48 L396.23,223.61 L397.03,223.74 L397.83,223.86 L398.63,223.99 L399.43,224.10 L400.23,224.20 L401.04,224.28 L401.84,224.33 L402.64,224.37 L403.44,224.37 L404.24,224.34 L405.04,224.28 L405.85,224.19 L406.65,224.07 L407.45,223.93 L408.25,223.76 L409.05,223.56 L409.85,223.34 L410.65,223.10 L411.46,222.84 L412.26,222.56 L413.06,222.25 L413.86,221.91 L414.66,221.53 L415.46,221.11 L416.27,220.63 L417.07,220.09 L417.87,219.49 L418.67,218.81 L419.47,218.05 L420.27,217.21 L421.07,216.29 L421.88,215.30 L422.68,214.24 L423.48,213.12 L424.28,211.94 L425.08,210.71 L425.88,209.42 L426.69,208.08 L427.49,206.69 L428.29,205.24 L429.09,203.73 L429.89,202.16 L430.69,200.51 L431.49,198.79 L432.30,196.99 L433.10,195.12 L433.90,193.17 L434.70,191.20 L435.50,189.22 L436.30,187.26 L437.11,185.30 L437.91,183.31 L438.71,181.29 L439.51,179.21 L440.31,177.05 L441.11,174.84 L441.91,172.62 L442.72,170.46 L443.52,168.39 L444.32,166.45 L445.12,164.67 L445.92,163.04 L446.72,161.56 L447.53,160.23 L448.33,159.05 L449.13,158.04 L449.93,157.20 L450.73,156.56 L451.53,156.13 L452.33,155.93 L453.14,155.98 L453.94,156.26 L454.74,156.75 L455.54,157.40 L456.34,158.19 L457.14,159.08 L457.95,160.04 L458.75,161.05 L459.55,162.09 L460.35,163.17 L461.15,164.29 L461.95,165.43 L462.75,166.60 L463.56,167.80 L464.36,169.01 L465.16,170.26 L465.96,171.52 L466.76,172.81 L467.56,174.13 L468.37,175.48 L469.17,176.86 L469.97,178.27 L470.77,179.71 L471.57,181.18 L472.37,182.68 L473.17,184.20 L473.98,185.73 L474.78,187.28 L475.58,188.84 L476.38,190.40 L477.18,191.96 L477.98,193.52 L478.79,195.07 L479.59,196.60 L480.39,198.12 L481.19,199.62 L481.99,201.10 L482.79,202.55 L483.59,203.98 L484.40,205.38 L485.20,206.76 L486.00,208.12 L486.80,209.44 L487.60,210.73 L488.40,212.00 L489.21,213.23 L490.01,214.43 L490.81,215.60 L491.61,216.73 L492.41,217.82 L493.21,218.87 L494.02,219.87 L494.82,220.81 L495.62,221.70 L496.42,222.53 L497.22,223.28 L498.02,223.97 L498.82,224.58 L499.63,225.12 L500.43,225.57 L501.23,225.94 L502.03,226.22 L502.83,226.42 L503.63,226.52 L504.44,226.54 L505.24,226.45 L506.04,226.28 L506.84,226.02 L507.64,225.67 L508.44,225.24 L509.24,224.73 L510.05,224.15 L510.85,223.50 L511.65,222.78 L512.45,222.00 L513.25,221.17 L514.05,220.28 L514.86,219.35 L515.66,218.37 L516.46,217.37 L517.26,216.34 L518.06,215.30 L518.86,214.24 L519.66,213.19 L520.47,212.14 L521.27,211.10 L522.07,210.07 L522.87,209.07 L523.67,208.09 L524.47,207.14 L525.28,206.22 L526.08,205.32 L526.88,204.46 L527.68,203.63 L528.48,202.84 L529.28,202.10 L530.08,201.39 L530.89,200.73 L531.69,200.11 L532.49,199.55 L533.29,199.04 L534.09,198.58 L534.89,198.18 L535.70,197.85 L536.50,197.57 L537.30,197.36 L538.10,197.21" stroke="#009a00" stroke-width="1.50" stroke-dasharray="1.3 1.3"/>
</g>
<g stroke="#262626" stroke-width="0.67" fill="none">
<rect x="330.50" y="146.40" width="207.60" height="84.10"/>
<path d="M372.02,230.50 v-2.20 M372.02,146.40 v2.20 M413.54,230.50 v-2.20 M413.54,146.40 v2.20 M455.06,230.50 v-2.20 M455.06,146.40 v2.20 M496.58,230.50 v-2.20 M496.58,146.40 v2.20 M330.50,214.91 h2.20 M538.10,214.91 h-2.20 M330.50,185.16 h2.20 M538.10,185.16 h-2.20 M330.50,155.41 h2.20 M538.10,155.41 h-2.20 "/>
</g>
<text x="326.30" y="218.41" font-size="11.5" text-anchor="end">-1.3</text>
<text x="326.30" y="188.66" font-size="11.5" text-anchor="end">-1.2</text>
<text x="326.30" y="158.91" font-size="11.5" text-anchor="end">-1.1</text>
<text transform="translate(300.25,189.45) rotate(-90)" font-size="13.5" text-anchor="middle"><tspan font-style="italic">q</tspan><tspan font-size="9" dy="2.5">4</tspan><tspan dy="-2.5"> [rad]</tspan></text>
<clipPath id="cq6"><rect x="330.30" y="264.10" width="208.00" height="84.40"/></clipPath>
<g clip-path="url(#cq6)" fill="none" stroke-linejoin="round">
<path d="M330.50,288.19 L331.30,286.79 L332.10,285.43 L332.90,284.18 L333.71,283.09 L334.51,282.20 L335.31,281.49 L336.11,280.85 L336.91,280.25 L337.71,279.70 L338.52,279.17 L339.32,278.65 L340.12,278.14 L340.92,277.63 L341.72,277.14 L342.52,276.65 L343.32,276.19 L344.13,275.75 L344.93,275.32 L345.73,274.90 L346.53,274.49 L347.33,274.09 L348.13,273.73 L348.94,273.40 L349.74,273.13 L350.54,272.90 L351.34,272.72 L352.14,272.58 L352.94,272.49 L353.74,272.46 L354.55,272.51 L355.35,272.65 L356.15,272.88 L356.95,273.19 L357.75,273.54 L358.55,273.93 L359.36,274.33 L360.16,274.72 L360.96,275.14 L361.76,275.61 L362.56,276.12 L363.36,276.68 L364.16,277.28 L364.97,277.92 L365.77,278.60 L366.57,279.32 L367.37,280.07 L368.17,280.86 L368.97,281.68 L369.78,282.53 L370.58,283.45 L371.38,284.48 L372.18,285.58 L372.98,286.75 L373.78,287.98 L374.58,289.25 L375.39,290.55 L376.19,291.86 L376.99,293.18 L377.79,294.49 L378.59,295.77 L379.39,297.05 L380.20,298.34 L381.00,299.63 L381.80,300.94 L382.60,302.24 L383.40,303.55 L384.20,304.85 L385.01,306.15 L385.81,307.43 L386.61,308.70 L387.41,309.95 L388.21,311.18 L389.01,312.39 L389.81,313.57 L390.62,314.72 L391.42,315.84 L392.22,316.94 L393.02,318.01 L393.82,319.06 L394.62,320.08 L395.43,321.08 L396.23,322.06 L397.03,323.00 L397.83,323.93 L398.63,324.83 L399.43,325.71 L400.23,326.57 L401.04,327.40 L401.84,328.20 L402.64,328.97 L403.44,329.71 L404.24,330.42 L405.04,331.09 L405.85,331.72 L406.65,332.32 L407.45,332.88 L408.25,333.40 L409.05,333.87 L409.85,334.31 L410.65,334.71 L411.46,335.08 L412.26,335.41 L413.06,335.72 L413.86,336.01 L414.66,336.28 L415.46,336.53 L416.27,336.76 L417.07,336.98 L417.87,337.19 L418.67,337.40 L419.47,337.59 L420.27,337.77 L421.07,337.92 L421.88,338.04 L422.68,338.13 L423.48,338.18 L424.28,338.18 L425.08,338.13 L425.88,338.03 L426.69,337.88 L427.49,337.70 L428.29,337.48 L429.09,337.26 L429.89,337.03 L430.69,336.81 L431.49,336.59 L432.30,336.35 L433.10,336.08 L433.90,335.75 L434.70,335.36 L435.50,334.89 L436.30,334.35 L437.11,333.74 L437.91,333.06 L438.71,332.32 L439.51,331.52 L440.31,330.66 L441.11,329.75 L441.91,328.79 L442.72,327.78 L443.52,326.72 L444.32,325.62 L445.12,324.46 L445.92,323.26 L446.72,322.01 L447.53,320.70 L448.33,319.34 L449.13,317.93 L449.93,316.47 L450.73,314.98 L451.53,313.46 L452.33,311.94 L453.14,310.42 L453.94,308.92 L454.74,307.45 L455.54,306.03 L456.34,304.67 L457.14,303.37 L457.95,302.14 L458.75,300.98 L459.55,299.88 L460.35,298.86 L461.15,297.90 L461.95,297.01 L462.75,296.19 L463.56,295.44 L464.36,294.76 L465.16,294.14 L465.96,293.59 L466.76,293.10 L467.56,292.67 L468.37,292.29 L469.17,291.97 L469.97,291.70 L470.77,291.49 L471.57,291.32 L472.37,291.19 L473.17,291.12 L473.98,291.10 L474.78,291.12 L475.58,291.20 L476.38,291.32 L477.18,291.49 L477.98,291.72 L478.79,291.99 L479.59,292.31 L480.39,292.68 L481.19,293.09 L481.99,293.55 L482.79,294.04 L483.59,294.56 L484.40,295.10 L485.20,295.66 L486.00,296.23 L486.80,296.80 L487.60,297.37 L488.40,297.93 L489.21,298.48 L490.01,299.01 L490.81,299.51 L491.61,299.99 L492.41,300.44 L493.21,300.88 L494.02,301.29 L494.82,301.69 L495.62,302.08 L496.42,302.45 L497.22,302.81 L498.02,303.16 L498.82,303.50 L499.63,303.84 L500.43,304.17 L501.23,304.50 L502.03,304.83 L502.83,305.15 L503.63,305.45 L504.44,305.75 L505.24,306.04 L506.04,306.31 L506.84,306.57 L507.64,306.81 L508.44,307.03 L509.24,307.23 L510.05,307.41 L510.85,307.56 L511.65,307.70 L512.45,307.81 L513.25,307.90 L514.05,307.96 L514.86,308.01 L515.66,308.04 L516.46,308.04 L517.26,308.03 L518.06,308.00 L518.86,307.95 L519.66,307.88 L520.47,307.80 L521.27,307.70 L522.07,307.59 L522.87,307.46 L523.67,307.32 L524.47,307.17 L525.28,307.01 L526.08,306.84 L526.88,306.66 L527.68,306.47 L528.48,306.28 L529.28,306.08 L530.08,305.88 L530.89,305.67 L531.69,305.46 L532.49,305.24 L533.29,305.03 L534.09,304.81 L534.89,304.60 L535.70,304.38 L536.50,304.17 L537.30,303.97 L538.10,303.77" stroke="#ff0000" stroke-width="2.10"/>
<path d="M330.50,288.19 L331.30,288.33 L332.10,288.45 L332.90,288.56 L333.71,288.64 L334.51,288.71 L335.31,288.75 L336.11,288.71 L336.91,288.63 L337.71,288.51 L338.52,288.19 L339.32,287.61 L340.12,286.81 L340.92,285.87 L341.72,284.91 L342.52,283.95 L343.32,282.90 L344.13,281.76 L344.93,280.65 L345.73,279.62 L346.53,278.65 L347.33,277.70 L348.13,276.79 L348.94,275.97 L349.74,275.29 L350.54,274.70 L351.34,274.16 L352.14,273.71 L352.94,273.37 L353.74,273.15 L354.55,273.04 L355.35,273.00 L356.15,273.03 L356.95,273.14 L357.75,273.32 L358.55,273.56 L359.36,273.88 L360.16,274.27 L360.96,274.72 L361.76,275.23 L362.56,275.79 L363.36,276.40 L364.16,277.06 L364.97,277.75 L365.77,278.49 L366.57,279.25 L367.37,280.04 L368.17,280.85 L368.97,281.68 L369.78,282.53 L370.58,283.44 L371.38,284.46 L372.18,285.56 L372.98,286.73 L373.78,287.96 L374.58,289.23 L375.39,290.53 L376.19,291.85 L376.99,293.18 L377.79,294.49 L378.59,295.77 L379.39,297.05 L380.20,298.34 L381.00,299.63 L381.80,300.94 L382.60,302.25 L383.40,303.55 L384.20,304.85 L385.01,306.15 L385.81,307.43 L386.61,308.70 L387.41,309.95 L388.21,311.18 L389.01,312.39 L389.81,313.57 L390.62,314.72 L391.42,315.84 L392.22,316.94 L393.02,318.01 L393.82,319.06 L394.62,320.08 L395.43,321.08 L396.23,322.05 L397.03,323.00 L397.83,323.93 L398.63,324.83 L399.43,325.71 L400.23,326.57 L401.04,327.40 L401.84,328.20 L402.64,328.97 L403.44,329.71 L404.24,330.42 L405.04,331.09 L405.85,331.72 L406.65,332.32 L407.45,332.88 L408.25,333.40 L409.05,333.87 L409.85,334.31 L410.65,334.71 L411.46,335.08 L412.26,335.41 L413.06,335.72 L413.86,336.01 L414.66,336.28 L415.46,336.53 L416.27,336.76 L417.07,336.98 L417.87,337.19 L418.67,337.40 L419.47,337.59 L420.27,337.77 L421.07,337.92 L421.88,338.04 L422.68,338.13 L423.48,338.18 L424.28,338.18 L425.08,338.13 L425.88,338.03 L426.69,337.88 L427.49,337.70 L428.29,337.48 L429.09,337.26 L429.89,337.03 L430.69,336.81 L431.49,336.59 L432.30,336.35 L433.10,336.08 L433.90,335.75 L434.70,335.36 L435.50,334.89 L436.30,334.35 L437.11,333.74 L437.91,333.06 L438.71,332.32 L439.51,331.52 L440.31,330.66 L441.11,329.75 L441.91,328.79 L442.72,327.78 L443.52,326.72 L444.32,325.62 L445.12,324.46 L445.92,323.26 L446.72,322.01 L447.53,320.70 L448.33,319.34 L449.13,317.93 L449.93,316.47 L450.73,314.98 L451.53,313.46 L452.33,311.94 L453.14,310.42 L453.94,308.92 L454.74,307.45 L455.54,306.03 L456.34,304.67 L457.14,303.37 L457.95,302.14 L458.75,300.98 L459.55,299.88 L460.35,298.86 L461.15,297.90 L461.95,297.01 L462.75,296.19 L463.56,295.44 L464.36,294.76 L465.16,294.14 L465.96,293.59 L466.76,293.10 L467.56,292.67 L468.37,292.29 L469.17,291.97 L469.97,291.70 L470.77,291.49 L471.57,291.32 L472.37,291.19 L473.17,291.12 L473.98,291.10 L474.78,291.12 L475.58,291.20 L476.38,291.32 L477.18,291.49 L477.98,291.72 L478.79,291.99 L479.59,292.31 L480.39,292.68 L481.19,293.09 L481.99,293.55 L482.79,294.04 L483.59,294.56 L484.40,295.10 L485.20,295.66 L486.00,296.23 L486.80,296.80 L487.60,297.37 L488.40,297.93 L489.21,298.48 L490.01,299.01 L490.81,299.51 L491.61,299.99 L492.41,300.44 L493.21,300.88 L494.02,301.29 L494.82,301.69 L495.62,302.08 L496.42,302.45 L497.22,302.81 L498.02,303.16 L498.82,303.50 L499.63,303.84 L500.43,304.17 L501.23,304.50 L502.03,304.83 L502.83,305.15 L503.63,305.45 L504.44,305.75 L505.24,306.04 L506.04,306.31 L506.84,306.57 L507.64,306.81 L508.44,307.03 L509.24,307.23 L510.05,307.41 L510.85,307.56 L511.65,307.70 L512.45,307.81 L513.25,307.90 L514.05,307.96 L514.86,308.01 L515.66,308.04 L516.46,308.04 L517.26,308.03 L518.06,308.00 L518.86,307.95 L519.66,307.88 L520.47,307.80 L521.27,307.70 L522.07,307.59 L522.87,307.46 L523.67,307.32 L524.47,307.17 L525.28,307.01 L526.08,306.84 L526.88,306.66 L527.68,306.47 L528.48,306.28 L529.28,306.08 L530.08,305.88 L530.89,305.67 L531.69,305.46 L532.49,305.24 L533.29,305.03 L534.09,304.81 L534.89,304.60 L535.70,304.38 L536.50,304.17 L537.30,303.97 L538.10,303.77" stroke="#0000ff" stroke-width="1.50" stroke-dasharray="7.2 8.1"/>
<path d="M330.50,288.19 L331.30,288.33 L332.10,288.45 L332.90,288.56 L333.71,288.65 L334.51,288.72 L335.31,288.75 L336.11,288.71 L336.91,288.63 L337.71,288.51 L338.52,288.20 L339.32,287.65 L340.12,286.88 L340.92,286.00 L341.72,285.09 L342.52,284.19 L343.32,283.21 L344.13,282.14 L344.93,281.11 L345.73,280.13 L346.53,279.15 L347.33,278.18 L348.13,277.26 L348.94,276.50 L349.74,275.98 L350.54,275.63 L351.34,275.33 L352.14,275.09 L352.94,274.91 L353.74,274.82 L354.55,274.81 L355.35,274.84 L356.15,274.91 L356.95,275.01 L357.75,275.14 L358.55,275.32 L359.36,275.54 L360.16,275.81 L360.96,276.12 L361.76,276.44 L362.56,276.78 L363.36,277.17 L364.16,277.63 L364.97,278.17 L365.77,278.79 L366.57,279.45 L367.37,280.16 L368.17,280.88 L368.97,281.66 L369.78,282.56 L370.58,283.56 L371.38,284.62 L372.18,285.74 L372.98,286.91 L373.78,288.14 L374.58,289.40 L375.39,290.69 L376.19,291.99 L376.99,293.27 L377.79,294.57 L378.59,295.87 L379.39,297.20 L380.20,298.53 L381.00,299.87 L381.80,301.21 L382.60,302.56 L383.40,303.90 L384.20,305.23 L385.01,306.55 L385.81,307.86 L386.61,309.15 L387.41,310.42 L388.21,311.67 L389.01,312.89 L389.81,314.07 L390.62,315.23 L391.42,316.36 L392.22,317.46 L393.02,318.53 L393.82,319.58 L394.62,320.60 L395.43,321.59 L396.23,322.56 L397.03,323.51 L397.83,324.43 L398.63,325.33 L399.43,326.21 L400.23,327.06 L401.04,327.89 L401.84,328.69 L402.64,329.46 L403.44,330.20 L404.24,330.91 L405.04,331.58 L405.85,332.22 L406.65,332.81 L407.45,333.37 L408.25,333.89 L409.05,334.37 L409.85,334.80 L410.65,335.20 L411.46,335.57 L412.26,335.91 L413.06,336.22 L413.86,336.51 L414.66,336.77 L415.46,337.02 L416.27,337.26 L417.07,337.48 L417.87,337.69 L418.67,337.90 L419.47,338.09 L420.27,338.26 L421.07,338.41 L421.88,338.54 L422.68,338.62 L423.48,338.67 L424.28,338.68 L425.08,338.63 L425.88,338.53 L426.69,338.38 L427.49,338.19 L428.29,337.98 L429.09,337.75 L429.89,337.53 L430.69,337.31 L431.49,337.09 L432.30,336.85 L433.10,336.57 L433.90,336.25 L434.70,335.86 L435.50,335.39 L436.30,334.85 L437.11,334.24 L437.91,333.56 L438.71,332.82 L439.51,332.01 L440.31,331.16 L441.11,330.25 L441.91,329.28 L442.72,328.28 L443.52,327.22 L444.32,326.11 L445.12,324.96 L445.92,323.76 L446.72,322.50 L447.53,321.19 L448.33,319.84 L449.13,318.43 L449.93,316.97 L450.73,315.47 L451.53,313.96 L452.33,312.44 L453.14,310.92 L453.94,309.42 L454.74,307.95 L455.54,306.53 L456.34,305.16 L457.14,303.86 L457.95,302.64 L458.75,301.47 L459.55,300.38 L460.35,299.35 L461.15,298.40 L461.95,297.51 L462.75,296.69 L463.56,295.94 L464.36,295.26 L465.16,294.64 L465.96,294.09 L466.76,293.60 L467.56,293.16 L468.37,292.79 L469.17,292.47 L469.97,292.20 L470.77,291.98 L471.57,291.81 L472.37,291.69 L473.17,291.62 L473.98,291.59 L474.78,291.62 L475.58,291.69 L476.38,291.82 L477.18,291.99 L477.98,292.21 L478.79,292.48 L479.59,292.80 L480.39,293.17 L481.19,293.59 L481.99,294.05 L482.79,294.54 L483.59,295.06 L484.40,295.60 L485.20,296.15 L486.00,296.72 L486.80,297.29 L487.60,297.86 L488.40,298.43 L489.21,298.97 L490.01,299.50 L490.81,300.00 L491.61,300.48 L492.41,300.94 L493.21,301.37 L494.02,301.79 L494.82,302.19 L495.62,302.57 L496.42,302.94 L497.22,303.30 L498.02,303.66 L498.82,304.00 L499.63,304.34 L500.43,304.67 L501.23,305.00 L502.03,305.32 L502.83,305.64 L503.63,305.95 L504.44,306.25 L505.24,306.53 L506.04,306.81 L506.84,307.06 L507.64,307.30 L508.44,307.52 L509.24,307.73 L510.05,307.90 L510.85,308.06 L511.65,308.19 L512.45,308.30 L513.25,308.39 L514.05,308.46 L514.86,308.50 L515.66,308.53 L516.46,308.54 L517.26,308.52 L518.06,308.49 L518.86,308.44 L519.66,308.38 L520.47,308.29 L521.27,308.19 L522.07,308.08 L522.87,307.95 L523.67,307.82 L524.47,307.67 L525.28,307.51 L526.08,307.33 L526.88,307.16 L527.68,306.97 L528.48,306.78 L529.28,306.58 L530.08,306.37 L530.89,306.16 L531.69,305.95 L532.49,305.74 L533.29,305.52 L534.09,305.31 L534.89,305.09 L535.70,304.88 L536.50,304.67 L537.30,304.46 L538.10,304.26" stroke="#ff00ff" stroke-width="1.50" stroke-dasharray="4.8 1.6 1.4 1.6"/>
<path d="M330.50,288.19 L331.30,288.29 L332.10,288.37 L332.90,288.44 L333.71,288.49 L334.51,288.53 L335.31,288.55 L336.11,288.49 L336.91,288.38 L337.71,288.23 L338.52,287.96 L339.32,287.39 L340.12,286.42 L340.92,285.18 L341.72,283.84 L342.52,282.49 L343.32,281.10 L344.13,279.60 L344.93,277.92 L345.73,276.15 L346.53,274.41 L347.33,272.77 L348.13,271.36 L348.94,270.21 L349.74,269.17 L350.54,268.19 L351.34,267.27 L352.14,266.45 L352.94,265.76 L353.74,265.23 L354.55,264.89 L355.35,264.75 L356.15,264.83 L356.95,265.08 L357.75,265.46 L358.55,265.96 L359.36,266.54 L360.16,267.20 L360.96,267.92 L361.76,268.74 L362.56,269.67 L363.36,270.68 L364.16,271.74 L364.97,272.83 L365.77,273.93 L366.57,275.03 L367.37,276.17 L368.17,277.35 L368.97,278.56 L369.78,279.81 L370.58,281.09 L371.38,282.40 L372.18,283.78 L372.98,285.21 L373.78,286.66 L374.58,288.13 L375.39,289.57 L376.19,290.98 L376.99,292.38 L377.79,293.78 L378.59,295.18 L379.39,296.58 L380.20,297.97 L381.00,299.35 L381.80,300.73 L382.60,302.10 L383.40,303.45 L384.20,304.78 L385.01,306.11 L385.81,307.41 L386.61,308.69 L387.41,309.95 L388.21,311.18 L389.01,312.39 L389.81,313.57 L390.62,314.72 L391.42,315.85 L392.22,316.95 L393.02,318.02 L393.82,319.07 L394.62,320.09 L395.43,321.08 L396.23,322.06 L397.03,323.01 L397.83,323.93 L398.63,324.83 L399.43,325.71 L400.23,326.57 L401.04,327.40 L401.84,328.20 L402.64,328.97 L403.44,329.71 L404.24,330.41 L405.04,331.09 L405.85,331.72 L406.65,332.32 L407.45,332.88 L408.25,333.40 L409.05,333.87 L409.85,334.31 L410.65,334.71 L411.46,335.08 L412.26,335.41 L413.06,335.72 L413.86,336.01 L414.66,336.28 L415.46,336.53 L416.27,336.76 L417.07,336.98 L417.87,337.19 L418.67,337.40 L419.47,337.59 L420.27,337.77 L421.07,337.92 L421.88,338.04 L422.68,338.13 L423.48,338.18 L424.28,338.18 L425.08,338.13 L425.88,338.03 L426.69,337.88 L427.49,337.70 L428.29,337.48 L429.09,337.26 L429.89,337.03 L430.69,336.81 L431.49,336.59 L432.30,336.35 L433.10,336.08 L433.90,335.75 L434.70,335.36 L435.50,334.89 L436.30,334.35 L437.11,333.74 L437.91,333.06 L438.71,332.32 L439.51,331.52 L440.31,330.66 L441.11,329.75 L441.91,328.79 L442.72,327.78 L443.52,326.72 L444.32,325.62 L445.12,324.46 L445.92,323.26 L446.72,322.01 L447.53,320.70 L448.33,319.34 L449.13,317.93 L449.93,316.47 L450.73,314.98 L451.53,313.46 L452.33,311.94 L453.14,310.42 L453.94,308.92 L454.74,307.45 L455.54,306.03 L456.34,304.67 L457.14,303.37 L457.95,302.14 L458.75,300.98 L459.55,299.88 L460.35,298.86 L461.15,297.90 L461.95,297.01 L462.75,296.19 L463.56,295.44 L464.36,294.76 L465.16,294.14 L465.96,293.59 L466.76,293.10 L467.56,292.67 L468.37,292.29 L469.17,291.97 L469.97,291.70 L470.77,291.49 L471.57,291.32 L472.37,291.19 L473.17,291.12 L473.98,291.10 L474.78,291.12 L475.58,291.20 L476.38,291.32 L477.18,291.49 L477.98,291.72 L478.79,291.99 L479.59,292.31 L480.39,292.68 L481.19,293.09 L481.99,293.55 L482.79,294.04 L483.59,294.56 L484.40,295.10 L485.20,295.66 L486.00,296.23 L486.80,296.80 L487.60,297.37 L488.40,297.93 L489.21,298.48 L490.01,299.01 L490.81,299.51 L491.61,299.99 L492.41,300.44 L493.21,300.88 L494.02,301.29 L494.82,301.69 L495.62,302.08 L496.42,302.45 L497.22,302.81 L498.02,303.16 L498.82,303.50 L499.63,303.84 L500.43,304.17 L501.23,304.50 L502.03,304.83 L502.83,305.15 L503.63,305.45 L504.44,305.75 L505.24,306.04 L506.04,306.31 L506.84,306.57 L507.64,306.81 L508.44,307.03 L509.24,307.23 L510.05,307.41 L510.85,307.56 L511.65,307.70 L512.45,307.81 L513.25,307.90 L514.05,307.96 L514.86,308.01 L515.66,308.04 L516.46,308.04 L517.26,308.03 L518.06,308.00 L518.86,307.95 L519.66,307.88 L520.47,307.80 L521.27,307.70 L522.07,307.59 L522.87,307.46 L523.67,307.32 L524.47,307.17 L525.28,307.01 L526.08,306.84 L526.88,306.66 L527.68,306.47 L528.48,306.28 L529.28,306.08 L530.08,305.88 L530.89,305.67 L531.69,305.46 L532.49,305.24 L533.29,305.03 L534.09,304.81 L534.89,304.60 L535.70,304.38 L536.50,304.17 L537.30,303.97 L538.10,303.77" stroke="#009a00" stroke-width="1.50" stroke-dasharray="1.3 1.3"/>
</g>
<g stroke="#262626" stroke-width="0.67" fill="none">
<rect x="330.50" y="264.30" width="207.60" height="84.00"/>
<path d="M372.02,348.30 v-2.20 M372.02,264.30 v2.20 M413.54,348.30 v-2.20 M413.54,264.30 v2.20 M455.06,348.30 v-2.20 M455.06,264.30 v2.20 M496.58,348.30 v-2.20 M496.58,264.30 v2.20 M330.50,312.90 h2.20 M538.10,312.90 h-2.20 M330.50,277.50 h2.20 M538.10,277.50 h-2.20 "/>
</g>
<text x="326.30" y="351.80" font-size="11.5" text-anchor="end">-3</text>
<text x="326.30" y="316.40" font-size="11.5" text-anchor="end">-2.5</text>
<text x="326.30" y="281.00" font-size="11.5" text-anchor="end">-2</text>
<text x="330.50" y="363.20" font-size="11.5" text-anchor="middle">0</text>
<text x="372.02" y="363.20" font-size="11.5" text-anchor="middle">2</text>
<text x="413.54" y="363.20" font-size="11.5" text-anchor="middle">4</text>
<text x="455.06" y="363.20" font-size="11.5" text-anchor="middle">6</text>
<text x="496.58" y="363.20" font-size="11.5" text-anchor="middle">8</text>
<text x="538.10" y="363.20" font-size="11.5" text-anchor="middle">10</text>
<text x="434.30" y="379.30" font-size="13.5" text-anchor="middle" letter-spacing="-0.15">Time [s]</text>
<text transform="translate(300.25,307.30) rotate(-90)" font-size="13.5" text-anchor="middle"><tspan font-style="italic">q</tspan><tspan font-size="9" dy="2.5">6</tspan><tspan dy="-2.5"> [rad]</tspan></text>
<clipPath id="cq5"><rect x="57.25" y="264.10" width="207.95" height="84.40"/></clipPath>
<g clip-path="url(#cq5)" fill="none" stroke-linejoin="round">
<path d="M57.45,297.90 L57.82,297.90 L58.19,297.90 L58.56,297.90 L58.94,297.90 L59.31,297.90 L59.68,297.90 L60.05,297.90 L60.42,297.90 L60.79,297.90 L61.16,297.90 L61.53,297.90 L61.91,297.90 L62.28,297.90 L62.65,297.90 L63.02,297.90 L63.39,297.90 L63.76,297.90 L64.13,297.90 L64.50,297.90 L64.88,297.90 L65.25,297.90 L65.62,297.90 L65.99,297.90 L66.36,297.90 L66.73,297.90 L67.10,297.90 L67.47,297.90 L67.85,297.90 L68.22,297.90 L68.59,297.90 L68.96,297.90 L69.33,297.90 L69.70,297.90 L70.07,297.90 L70.45,297.90 L70.82,297.90 L71.19,297.90 L71.56,297.90 L71.93,297.90 L72.30,297.90 L72.67,297.90 L73.04,297.90 L73.42,297.90 L73.79,297.90 L74.16,297.90 L74.53,297.90 L74.90,297.90 L75.27,297.90 L75.64,297.90 L76.01,297.90 L76.39,297.90 L76.76,297.90 L77.13,297.90 L77.50,297.90 L77.87,297.90 L78.24,297.90 L78.61,297.90 L78.98,297.90 L79.36,297.90 L79.73,297.90 L80.10,297.90 L80.47,297.90 L80.84,297.90 L81.21,297.90 L81.58,297.90 L81.96,297.90 L82.33,297.90 L82.70,297.90 L83.07,297.90 L83.44,297.90 L83.81,297.90 L84.18,297.90 L84.55,297.90 L84.93,297.90 L85.30,297.90 L85.67,297.90 L86.04,297.90 L86.41,297.90 L86.78,297.90 L87.15,297.90 L87.52,297.90 L87.90,297.90 L88.27,297.90 L88.64,297.90 L89.01,297.90 L89.38,297.90 L89.75,297.90 L90.12,297.90 L90.49,297.90 L90.87,297.90 L91.24,297.90 L91.61,297.90 L91.98,297.90 L92.35,297.90 L92.72,297.90 L93.09,297.90 L93.46,297.90 L93.84,297.90 L94.21,297.90 L94.58,297.90 L94.95,297.90 L95.32,297.90 L95.69,297.90 L96.06,297.90 L96.44,297.90 L96.81,297.90 L97.18,297.90 L97.55,297.90 L97.92,297.90 L98.29,297.90 L98.66,297.90 L99.03,297.90 L99.41,297.90 L99.78,297.90 L100.15,297.90 L100.52,297.90 L100.89,297.90 L101.26,297.90 L101.63,297.90 L102.00,297.90 L102.38,297.90 L102.75,297.90 L103.12,297.90 L103.49,297.90 L103.86,297.90 L104.23,297.90 L104.60,297.90 L104.97,297.90 L105.35,297.90 L105.72,297.90 L106.09,297.90 L106.46,297.90 L106.83,297.90 L107.20,297.90 L107.57,297.90 L107.95,297.90 L108.32,297.90 L108.69,297.90 L109.06,297.90 L109.43,297.90 L109.80,297.90 L110.17,297.90 L110.54,297.90 L110.92,297.90 L111.29,297.90 L111.66,297.90 L112.03,297.90 L112.40,297.90 L112.77,297.90 L113.14,297.90 L113.51,297.90 L113.89,297.90 L114.26,297.90 L114.63,297.90 L115.00,297.90 L115.37,297.90 L115.74,297.90 L116.11,297.90 L116.48,297.90 L116.86,297.90 L117.23,297.90 L117.60,297.90 L117.97,297.90 L118.34,297.90 L118.71,297.90 L119.08,297.90 L119.46,297.90 L119.83,297.90 L120.20,297.90 L120.57,297.90 L120.94,297.90 L121.31,297.90 L121.68,297.90 L122.05,297.90 L122.43,297.90 L122.80,297.90 L123.17,297.90 L123.54,297.90 L123.91,297.90 L124.28,297.90 L124.65,297.90 L125.02,297.90 L125.40,297.90 L125.77,297.90 L126.14,297.90 L126.51,297.90 L126.88,297.90 L127.25,297.90 L127.62,297.90 L127.99,297.90 L128.37,297.90 L128.74,297.90 L129.11,297.90 L129.48,297.90 L129.85,297.90 L130.22,297.90 L130.59,297.90 L130.97,297.90 L131.34,297.90 L131.71,297.90 L132.08,297.90 L132.45,297.90 L132.82,297.90 L133.19,297.90 L133.56,297.90 L133.94,297.90 L134.31,297.90 L134.68,297.90 L135.05,297.90 L135.42,297.90 L135.79,297.90 L136.16,297.90 L136.53,297.90 L136.91,297.90 L137.28,297.90 L137.65,297.90 L138.02,297.90 L138.39,297.90 L138.76,297.90 L139.13,297.90 L139.50,297.90 L139.88,297.90 L140.25,297.90 L140.62,297.90 L140.99,297.90 L141.36,297.90 L141.73,297.90 L142.10,297.90 L142.47,297.90 L142.85,297.90 L143.22,297.90 L143.59,297.90 L143.96,297.90 L144.33,297.90 L144.70,297.90 L145.07,297.90 L145.45,297.90 L145.82,297.90 L146.19,297.90 L146.56,297.90 L146.93,297.90 L147.30,297.90 L147.67,297.90 L148.04,297.90 L148.42,297.90 L148.79,297.90 L149.16,297.90 L149.53,297.90 L149.90,297.90 L150.27,297.90 L150.64,297.90 L151.01,297.90 L151.39,297.90 L151.76,297.90 L152.13,297.90 L152.50,297.90 L152.87,297.90 L153.24,297.90 L153.61,297.90 L153.98,297.90 L154.36,297.90 L154.73,297.90 L155.10,297.90 L155.47,297.90 L155.84,297.90 L156.21,297.90 L156.58,297.90 L156.96,297.90 L157.33,297.90 L157.70,297.90 L158.07,297.90 L158.44,297.90 L158.81,297.90 L159.18,297.90 L159.55,297.90 L159.93,297.90 L160.30,297.90 L160.67,297.90 L161.04,297.90 L161.41,297.90 L161.78,297.90 L162.15,297.90 L162.52,297.90 L162.90,297.90 L163.27,297.90 L163.64,297.90 L164.01,297.90 L164.38,297.90 L164.75,297.90 L165.12,297.90 L165.49,297.90 L165.87,297.90 L166.24,297.90 L166.61,297.90 L166.98,297.90 L167.35,297.90 L167.72,297.90 L168.09,297.90 L168.47,297.90 L168.84,297.90 L169.21,297.90 L169.58,297.90 L169.95,297.90 L170.32,297.90 L170.69,297.90 L171.06,297.90 L171.44,297.90 L171.81,297.90 L172.18,297.90 L172.55,297.90 L172.92,297.90 L173.29,297.90 L173.66,297.90 L174.03,297.90 L174.41,297.90 L174.78,297.90 L175.15,297.90 L175.52,297.90 L175.89,297.90 L176.26,297.90 L176.63,297.90 L177.00,297.90 L177.38,297.90 L177.75,297.90 L178.12,297.90 L178.49,297.90 L178.86,297.90 L179.23,297.90 L179.60,297.90 L179.98,297.90 L180.35,297.90 L180.72,297.90 L181.09,297.90 L181.46,297.90 L181.83,297.90 L182.20,297.90 L182.57,297.90 L182.95,297.90 L183.32,297.90 L183.69,297.90 L184.06,297.90 L184.43,297.90 L184.80,297.90 L185.17,297.90 L185.54,297.90 L185.92,297.90 L186.29,297.90 L186.66,297.90 L187.03,297.90 L187.40,297.90 L187.77,297.90 L188.14,297.90 L188.51,297.90 L188.89,297.90 L189.26,297.90 L189.63,297.90 L190.00,297.90 L190.37,297.90 L190.74,297.90 L191.11,297.90 L191.48,297.90 L191.86,297.90 L192.23,297.90 L192.60,297.90 L192.97,297.90 L193.34,297.90 L193.71,297.90 L194.08,297.90 L194.46,297.90 L194.83,297.90 L195.20,297.90 L195.57,297.90 L195.94,297.90 L196.31,297.90 L196.68,297.90 L197.05,297.90 L197.43,297.90 L197.80,297.90 L198.17,297.90 L198.54,297.90 L198.91,297.90 L199.28,297.90 L199.65,297.90 L200.02,297.90 L200.40,297.90 L200.77,297.90 L201.14,297.90 L201.51,297.90 L201.88,297.90 L202.25,297.90 L202.62,297.90 L202.99,297.90 L203.37,297.90 L203.74,297.90 L204.11,297.90 L204.48,297.90 L204.85,297.90 L205.22,297.90 L205.59,297.90 L205.97,297.90 L206.34,297.90 L206.71,297.90 L207.08,297.90 L207.45,297.90 L207.82,297.90 L208.19,297.90 L208.56,297.90 L208.94,297.90 L209.31,297.90 L209.68,297.90 L210.05,297.90 L210.42,297.90 L210.79,297.90 L211.16,297.90 L211.53,297.90 L211.91,297.90 L212.28,297.90 L212.65,297.90 L213.02,297.90 L213.39,297.90 L213.76,297.90 L214.13,297.90 L214.50,297.90 L214.88,297.90 L215.25,297.90 L215.62,297.90 L215.99,297.90 L216.36,297.90 L216.73,297.90 L217.10,297.90 L217.48,297.90 L217.85,297.90 L218.22,297.90 L218.59,297.90 L218.96,297.90 L219.33,297.90 L219.70,297.90 L220.07,297.90 L220.45,297.90 L220.82,297.90 L221.19,297.90 L221.56,297.90 L221.93,297.90 L222.30,297.90 L222.67,297.90 L223.04,297.90 L223.42,297.90 L223.79,297.90 L224.16,297.90 L224.53,297.90 L224.90,297.90 L225.27,297.90 L225.64,297.90 L226.01,297.90 L226.39,297.90 L226.76,297.90 L227.13,297.90 L227.50,297.90 L227.87,297.90 L228.24,297.90 L228.61,297.90 L228.99,297.90 L229.36,297.90 L229.73,297.90 L230.10,297.90 L230.47,297.90 L230.84,297.90 L231.21,297.90 L231.58,297.90 L231.96,297.90 L232.33,297.90 L232.70,297.90 L233.07,297.90 L233.44,297.90 L233.81,297.90 L234.18,297.90 L234.55,297.90 L234.93,297.90 L235.30,297.90 L235.67,297.90 L236.04,297.90 L236.41,297.90 L236.78,297.90 L237.15,297.90 L237.52,297.90 L237.90,297.90 L238.27,297.90 L238.64,297.90 L239.01,297.90 L239.38,297.90 L239.75,297.90 L240.12,297.90 L240.49,297.90 L240.87,297.90 L241.24,297.90 L241.61,297.90 L241.98,297.90 L242.35,297.90 L242.72,297.90 L243.09,297.90 L243.47,297.90 L243.84,297.90 L244.21,297.90 L244.58,297.90 L244.95,297.90 L245.32,297.90 L245.69,297.90 L246.06,297.90 L246.44,297.90 L246.81,297.90 L247.18,297.90 L247.55,297.90 L247.92,297.90 L248.29,297.90 L248.66,297.90 L249.03,297.90 L249.41,297.90 L249.78,297.90 L250.15,297.90 L250.52,297.90 L250.89,297.90 L251.26,297.90 L251.63,297.90 L252.00,297.90 L252.38,297.90 L252.75,297.90 L253.12,297.90 L253.49,297.90 L253.86,297.90 L254.23,297.90 L254.60,297.90 L254.98,297.90 L255.35,297.90 L255.72,297.90 L256.09,297.90 L256.46,297.90 L256.83,297.90 L257.20,297.90 L257.57,297.90 L257.95,297.90 L258.32,297.90 L258.69,297.90 L259.06,297.90 L259.43,297.90 L259.80,297.90 L260.17,297.90 L260.54,297.90 L260.92,297.90 L261.29,297.90 L261.66,297.90 L262.03,297.90 L262.40,297.90 L262.77,297.90 L263.14,297.90 L263.51,297.90 L263.89,297.90 L264.26,297.90 L264.63,297.90 L265.00,297.90" stroke="#ff0000" stroke-width="2.10"/>
<path d="M57.45,293.70 L57.82,293.56 L58.19,293.85 L58.56,294.22 L58.94,294.01 L59.31,294.39 L59.68,293.75 L60.05,292.90 L60.42,294.22 L60.79,294.37 L61.16,293.57 L61.53,293.72 L61.91,293.97 L62.28,294.91 L62.65,294.20 L63.02,293.62 L63.39,295.54 L63.76,294.81 L64.13,296.28 L64.50,295.80 L64.88,296.45 L65.25,294.94 L65.62,296.09 L65.99,294.58 L66.36,294.78 L66.73,295.24 L67.10,297.88 L67.47,295.81 L67.85,295.35 L68.22,295.26 L68.59,297.23 L68.96,296.12 L69.33,296.80 L69.70,296.69 L70.07,294.54 L70.45,296.87 L70.82,296.02 L71.19,294.97 L71.56,296.86 L71.93,296.35 L72.30,296.15 L72.67,296.28 L73.04,297.99 L73.42,296.40 L73.79,294.81 L74.16,298.64 L74.53,295.56 L74.90,296.59 L75.27,297.65 L75.64,294.20 L76.01,295.89 L76.39,298.57 L76.76,296.91 L77.13,296.27 L77.50,297.35 L77.87,296.21 L78.24,297.27 L78.61,296.30 L78.98,295.26 L79.36,298.21 L79.73,297.03 L80.10,297.98 L80.47,297.19 L80.84,299.05 L81.21,298.23 L81.58,297.71 L81.96,296.19 L82.33,295.86 L82.70,299.37 L83.07,298.64 L83.44,296.61 L83.81,300.39 L84.18,298.22 L84.55,297.71 L84.93,295.77 L85.30,296.60 L85.67,298.07 L86.04,298.14 L86.41,297.98 L86.78,295.41 L87.15,298.25 L87.52,298.08 L87.90,297.13 L88.27,297.82 L88.64,297.94 L89.01,299.28 L89.38,297.68 L89.75,298.31 L90.12,295.95 L90.49,296.71 L90.87,297.71 L91.24,296.69 L91.61,298.17 L91.98,296.13 L92.35,297.69 L92.72,296.82 L93.09,299.59 L93.46,297.17 L93.84,300.18 L94.21,300.70 L94.58,298.14 L94.95,299.02 L95.32,297.44 L95.69,294.35 L96.06,298.92 L96.44,298.61 L96.81,297.38 L97.18,296.95 L97.55,297.95 L97.92,298.00 L98.29,296.64 L98.66,296.91 L99.03,299.23 L99.41,297.81 L99.78,297.64 L100.15,299.27 L100.52,297.30 L100.89,298.97 L101.26,296.23 L101.63,297.40 L102.00,297.56 L102.38,298.58 L102.75,297.87 L103.12,300.68 L103.49,299.39 L103.86,297.15 L104.23,300.88 L104.60,296.42 L104.97,300.31 L105.35,296.55 L105.72,298.96 L106.09,296.52 L106.46,297.49 L106.83,300.00 L107.20,295.81 L107.57,295.52 L107.95,297.79 L108.32,298.10 L108.69,297.93 L109.06,299.16 L109.43,296.04 L109.80,298.51 L110.17,297.77 L110.54,298.88 L110.92,298.63 L111.29,299.61 L111.66,295.80 L112.03,297.92 L112.40,296.23 L112.77,297.67 L113.14,298.74 L113.51,298.18 L113.89,298.53 L114.26,297.68 L114.63,298.26 L115.00,298.14 L115.37,299.77 L115.74,298.91 L116.11,295.20 L116.48,298.70 L116.86,299.28 L117.23,297.18 L117.60,295.57 L117.97,299.88 L118.34,298.00 L118.71,298.64 L119.08,300.35 L119.46,296.58 L119.83,297.73 L120.20,297.58 L120.57,298.83 L120.94,297.00 L121.31,298.50 L121.68,297.91 L122.05,299.36 L122.43,299.53 L122.80,295.67 L123.17,298.46 L123.54,297.25 L123.91,297.74 L124.28,298.36 L124.65,298.46 L125.02,296.74 L125.40,298.15 L125.77,297.92 L126.14,297.66 L126.51,295.91 L126.88,296.66 L127.25,297.11 L127.62,298.54 L127.99,299.78 L128.37,296.26 L128.74,296.23 L129.11,297.90 L129.48,296.87 L129.85,296.51 L130.22,296.43 L130.59,296.30 L130.97,298.38 L131.34,295.40 L131.71,299.57 L132.08,296.39 L132.45,296.94 L132.82,296.37 L133.19,294.85 L133.56,295.45 L133.94,299.42 L134.31,300.24 L134.68,296.46 L135.05,299.22 L135.42,297.71 L135.79,296.42 L136.16,300.17 L136.53,300.88 L136.91,297.30 L137.28,297.62 L137.65,298.06 L138.02,297.63 L138.39,298.99 L138.76,299.98 L139.13,297.94 L139.50,299.16 L139.88,300.17 L140.25,296.93 L140.62,297.78 L140.99,297.08 L141.36,299.19 L141.73,298.68 L142.10,299.20 L142.47,299.03 L142.85,297.39 L143.22,298.87 L143.59,297.15 L143.96,297.18 L144.33,294.63 L144.70,299.80 L145.07,296.35 L145.45,297.83 L145.82,297.71 L146.19,299.88 L146.56,298.39 L146.93,296.57 L147.30,297.81 L147.67,297.57 L148.04,298.13 L148.42,295.94 L148.79,297.72 L149.16,301.02 L149.53,298.74 L149.90,300.67 L150.27,302.61 L150.64,298.49 L151.01,295.67 L151.39,297.62 L151.76,299.46 L152.13,299.11 L152.50,295.98 L152.87,297.45 L153.24,297.62 L153.61,297.77 L153.98,297.63 L154.36,296.47 L154.73,296.85 L155.10,297.36 L155.47,299.27 L155.84,296.92 L156.21,298.72 L156.58,296.04 L156.96,299.61 L157.33,297.90 L157.70,297.70 L158.07,299.69 L158.44,295.09 L158.81,295.48 L159.18,298.39 L159.55,296.52 L159.93,297.12 L160.30,301.64 L160.67,297.31 L161.04,297.78 L161.41,297.56 L161.78,299.32 L162.15,298.10 L162.52,297.96 L162.90,295.89 L163.27,297.18 L163.64,297.70 L164.01,295.38 L164.38,298.53 L164.75,298.28 L165.12,300.44 L165.49,295.32 L165.87,296.23 L166.24,296.30 L166.61,296.68 L166.98,297.52 L167.35,297.36 L167.72,298.07 L168.09,298.00 L168.47,297.61 L168.84,295.40 L169.21,296.85 L169.58,297.78 L169.95,298.57 L170.32,298.65 L170.69,295.27 L171.06,296.92 L171.44,297.59 L171.81,298.21 L172.18,299.37 L172.55,297.79 L172.92,296.37 L173.29,298.28 L173.66,298.03 L174.03,298.02 L174.41,297.52 L174.78,300.10 L175.15,298.05 L175.52,298.98 L175.89,296.35 L176.26,298.86 L176.63,296.82 L177.00,295.39 L177.38,298.16 L177.75,298.60 L178.12,297.40 L178.49,297.69 L178.86,299.19 L179.23,296.99 L179.60,294.64 L179.98,298.08 L180.35,298.00 L180.72,299.27 L181.09,297.21 L181.46,299.58 L181.83,299.36 L182.20,295.76 L182.57,299.06 L182.95,296.05 L183.32,295.39 L183.69,297.30 L184.06,296.85 L184.43,294.74 L184.80,297.99 L185.17,298.59 L185.54,299.74 L185.92,297.63 L186.29,295.45 L186.66,296.24 L187.03,299.11 L187.40,298.98 L187.77,298.45 L188.14,297.25 L188.51,298.00 L188.89,297.37 L189.26,297.24 L189.63,298.14 L190.00,297.75 L190.37,297.38 L190.74,297.82 L191.11,296.93 L191.48,294.86 L191.86,296.79 L192.23,297.61 L192.60,300.24 L192.97,297.10 L193.34,300.63 L193.71,299.82 L194.08,296.40 L194.46,296.62 L194.83,297.92 L195.20,300.28 L195.57,298.25 L195.94,298.72 L196.31,296.73 L196.68,294.28 L197.05,297.36 L197.43,298.87 L197.80,299.46 L198.17,297.77 L198.54,297.96 L198.91,299.43 L199.28,297.51 L199.65,299.43 L200.02,296.01 L200.40,296.08 L200.77,296.05 L201.14,298.41 L201.51,296.91 L201.88,297.89 L202.25,298.28 L202.62,298.20 L202.99,299.66 L203.37,299.87 L203.74,296.49 L204.11,297.98 L204.48,297.36 L204.85,296.18 L205.22,300.31 L205.59,298.88 L205.97,297.42 L206.34,297.10 L206.71,298.26 L207.08,296.13 L207.45,297.37 L207.82,299.52 L208.19,299.10 L208.56,296.47 L208.94,296.99 L209.31,300.56 L209.68,295.65 L210.05,296.79 L210.42,295.66 L210.79,298.27 L211.16,298.14 L211.53,299.39 L211.91,293.85 L212.28,297.96 L212.65,295.29 L213.02,298.67 L213.39,297.44 L213.76,300.22 L214.13,298.27 L214.50,296.20 L214.88,299.58 L215.25,296.07 L215.62,297.18 L215.99,299.27 L216.36,298.45 L216.73,298.38 L217.10,297.76 L217.48,298.50 L217.85,298.94 L218.22,298.15 L218.59,299.24 L218.96,299.64 L219.33,297.76 L219.70,296.36 L220.07,300.00 L220.45,297.68 L220.82,298.67 L221.19,299.17 L221.56,296.40 L221.93,298.47 L222.30,295.42 L222.67,298.87 L223.04,297.11 L223.42,298.03 L223.79,298.83 L224.16,296.80 L224.53,297.92 L224.90,296.78 L225.27,297.76 L225.64,299.33 L226.01,297.84 L226.39,297.61 L226.76,296.24 L227.13,299.06 L227.50,297.75 L227.87,300.29 L228.24,296.70 L228.61,299.33 L228.99,300.42 L229.36,297.78 L229.73,296.02 L230.10,299.99 L230.47,299.34 L230.84,298.81 L231.21,299.40 L231.58,297.12 L231.96,298.91 L232.33,298.78 L232.70,296.81 L233.07,298.83 L233.44,297.04 L233.81,299.16 L234.18,299.52 L234.55,300.47 L234.93,294.88 L235.30,298.17 L235.67,297.32 L236.04,297.74 L236.41,297.45 L236.78,297.61 L237.15,294.80 L237.52,299.26 L237.90,300.04 L238.27,299.22 L238.64,299.71 L239.01,296.56 L239.38,296.45 L239.75,299.14 L240.12,299.79 L240.49,298.23 L240.87,295.59 L241.24,301.95 L241.61,296.89 L241.98,299.32 L242.35,296.12 L242.72,299.32 L243.09,298.12 L243.47,299.97 L243.84,299.17 L244.21,295.59 L244.58,296.45 L244.95,298.30 L245.32,299.01 L245.69,300.55 L246.06,298.29 L246.44,297.74 L246.81,297.82 L247.18,297.83 L247.55,299.39 L247.92,297.79 L248.29,297.75 L248.66,295.74 L249.03,294.87 L249.41,297.90 L249.78,298.85 L250.15,297.79 L250.52,298.61 L250.89,298.81 L251.26,297.78 L251.63,299.27 L252.00,296.77 L252.38,297.85 L252.75,297.31 L253.12,297.97 L253.49,298.79 L253.86,299.12 L254.23,298.05 L254.60,298.52 L254.98,297.34 L255.35,297.70 L255.72,299.75 L256.09,297.59 L256.46,299.72 L256.83,298.62 L257.20,298.14 L257.57,300.83 L257.95,297.55 L258.32,297.46 L258.69,297.93 L259.06,298.33 L259.43,298.25 L259.80,299.17 L260.17,298.10 L260.54,298.53 L260.92,297.55 L261.29,299.51 L261.66,297.33 L262.03,297.47 L262.40,297.90 L262.77,298.35 L263.14,296.85 L263.51,300.21 L263.89,296.99 L264.26,297.32 L264.63,297.26 L265.00,297.11" stroke="#0000ff" stroke-width="1.50" stroke-dasharray="7.2 4.5"/>
<path d="M57.45,293.75 L57.82,293.60 L58.19,293.20 L58.56,293.29 L58.94,293.40 L59.31,294.37 L59.68,293.22 L60.05,292.84 L60.42,292.93 L60.79,293.44 L61.16,294.69 L61.53,292.98 L61.91,293.79 L62.28,295.62 L62.65,293.45 L63.02,294.96 L63.39,294.87 L63.76,294.38 L64.13,292.81 L64.50,294.25 L64.88,293.73 L65.25,292.44 L65.62,292.60 L65.99,294.20 L66.36,294.38 L66.73,295.40 L67.10,294.92 L67.47,293.87 L67.85,293.94 L68.22,294.27 L68.59,293.41 L68.96,295.27 L69.33,294.57 L69.70,293.79 L70.07,293.98 L70.45,293.50 L70.82,294.26 L71.19,295.07 L71.56,294.37 L71.93,295.93 L72.30,296.69 L72.67,294.24 L73.04,294.99 L73.42,294.61 L73.79,296.95 L74.16,295.45 L74.53,295.76 L74.90,296.10 L75.27,297.77 L75.64,295.55 L76.01,294.11 L76.39,294.75 L76.76,295.95 L77.13,295.27 L77.50,294.36 L77.87,298.65 L78.24,295.47 L78.61,294.67 L78.98,294.52 L79.36,293.28 L79.73,293.99 L80.10,295.02 L80.47,295.04 L80.84,294.45 L81.21,296.12 L81.58,295.51 L81.96,294.33 L82.33,293.01 L82.70,295.69 L83.07,295.56 L83.44,295.25 L83.81,293.81 L84.18,295.56 L84.55,293.65 L84.93,296.77 L85.30,295.77 L85.67,295.80 L86.04,294.54 L86.41,294.21 L86.78,297.50 L87.15,296.74 L87.52,295.13 L87.90,296.42 L88.27,297.54 L88.64,294.22 L89.01,294.93 L89.38,294.93 L89.75,296.19 L90.12,294.24 L90.49,295.89 L90.87,294.15 L91.24,296.77 L91.61,296.70 L91.98,295.31 L92.35,296.50 L92.72,294.70 L93.09,295.24 L93.46,296.80 L93.84,295.49 L94.21,296.05 L94.58,294.38 L94.95,296.42 L95.32,296.17 L95.69,293.99 L96.06,292.63 L96.44,292.95 L96.81,295.51 L97.18,295.30 L97.55,293.56 L97.92,295.75 L98.29,296.88 L98.66,295.43 L99.03,294.99 L99.41,296.69 L99.78,297.78 L100.15,297.50 L100.52,294.71 L100.89,296.60 L101.26,295.78 L101.63,295.31 L102.00,294.77 L102.38,296.04 L102.75,294.93 L103.12,296.78 L103.49,296.07 L103.86,296.96 L104.23,294.08 L104.60,295.63 L104.97,296.58 L105.35,296.06 L105.72,295.89 L106.09,294.65 L106.46,297.72 L106.83,296.98 L107.20,296.10 L107.57,292.21 L107.95,294.31 L108.32,295.74 L108.69,294.64 L109.06,292.84 L109.43,295.90 L109.80,296.08 L110.17,293.97 L110.54,294.93 L110.92,294.69 L111.29,296.27 L111.66,293.01 L112.03,293.30 L112.40,294.83 L112.77,294.67 L113.14,298.31 L113.51,294.74 L113.89,295.85 L114.26,295.01 L114.63,294.68 L115.00,296.05 L115.37,297.86 L115.74,295.10 L116.11,296.58 L116.48,296.03 L116.86,296.40 L117.23,296.05 L117.60,298.69 L117.97,293.96 L118.34,295.25 L118.71,294.10 L119.08,292.93 L119.46,295.56 L119.83,298.01 L120.20,296.79 L120.57,297.21 L120.94,296.26 L121.31,295.48 L121.68,298.28 L122.05,295.13 L122.43,297.62 L122.80,295.19 L123.17,295.74 L123.54,296.01 L123.91,295.69 L124.28,296.31 L124.65,296.41 L125.02,297.85 L125.40,295.63 L125.77,293.11 L126.14,292.93 L126.51,293.82 L126.88,294.64 L127.25,296.50 L127.62,293.65 L127.99,295.67 L128.37,295.68 L128.74,295.98 L129.11,295.47 L129.48,296.17 L129.85,295.70 L130.22,297.05 L130.59,296.09 L130.97,292.53 L131.34,295.68 L131.71,295.91 L132.08,294.87 L132.45,294.64 L132.82,297.09 L133.19,295.87 L133.56,294.36 L133.94,295.23 L134.31,295.43 L134.68,293.50 L135.05,296.50 L135.42,295.48 L135.79,296.29 L136.16,293.59 L136.53,298.21 L136.91,296.49 L137.28,296.30 L137.65,294.70 L138.02,294.78 L138.39,293.72 L138.76,297.70 L139.13,294.58 L139.50,295.98 L139.88,296.48 L140.25,294.86 L140.62,296.83 L140.99,298.38 L141.36,296.09 L141.73,297.60 L142.10,296.46 L142.47,295.09 L142.85,295.17 L143.22,293.46 L143.59,295.86 L143.96,297.65 L144.33,296.61 L144.70,296.83 L145.07,297.23 L145.45,295.00 L145.82,296.46 L146.19,298.25 L146.56,294.65 L146.93,295.74 L147.30,295.11 L147.67,295.45 L148.04,294.74 L148.42,295.54 L148.79,293.93 L149.16,295.02 L149.53,295.06 L149.90,295.04 L150.27,297.55 L150.64,295.81 L151.01,295.94 L151.39,295.31 L151.76,297.42 L152.13,293.39 L152.50,295.45 L152.87,297.22 L153.24,297.89 L153.61,295.97 L153.98,295.71 L154.36,296.56 L154.73,295.47 L155.10,296.45 L155.47,294.85 L155.84,296.56 L156.21,295.64 L156.58,294.27 L156.96,292.13 L157.33,296.94 L157.70,296.21 L158.07,296.72 L158.44,294.54 L158.81,297.13 L159.18,296.24 L159.55,295.63 L159.93,296.91 L160.30,296.88 L160.67,296.23 L161.04,298.41 L161.41,297.53 L161.78,296.15 L162.15,295.39 L162.52,295.84 L162.90,297.97 L163.27,296.21 L163.64,294.52 L164.01,294.84 L164.38,295.70 L164.75,296.78 L165.12,294.74 L165.49,296.37 L165.87,297.16 L166.24,296.67 L166.61,293.64 L166.98,295.29 L167.35,294.03 L167.72,296.23 L168.09,294.33 L168.47,296.40 L168.84,295.80 L169.21,292.25 L169.58,294.56 L169.95,296.26 L170.32,295.70 L170.69,295.15 L171.06,293.96 L171.44,296.25 L171.81,297.93 L172.18,295.97 L172.55,295.57 L172.92,295.44 L173.29,293.82 L173.66,295.16 L174.03,294.50 L174.41,297.07 L174.78,294.42 L175.15,292.77 L175.52,294.55 L175.89,295.25 L176.26,295.38 L176.63,293.19 L177.00,296.84 L177.38,295.74 L177.75,294.97 L178.12,294.59 L178.49,296.18 L178.86,295.18 L179.23,295.96 L179.60,295.43 L179.98,295.77 L180.35,297.12 L180.72,295.62 L181.09,294.41 L181.46,296.89 L181.83,295.91 L182.20,294.70 L182.57,297.03 L182.95,295.34 L183.32,297.01 L183.69,294.07 L184.06,292.48 L184.43,292.87 L184.80,295.88 L185.17,294.60 L185.54,295.43 L185.92,295.45 L186.29,293.51 L186.66,297.36 L187.03,294.17 L187.40,295.66 L187.77,293.70 L188.14,295.34 L188.51,296.49 L188.89,295.22 L189.26,294.60 L189.63,295.54 L190.00,294.93 L190.37,296.29 L190.74,298.46 L191.11,294.38 L191.48,294.65 L191.86,295.39 L192.23,295.50 L192.60,294.20 L192.97,296.20 L193.34,296.54 L193.71,295.84 L194.08,293.99 L194.46,297.45 L194.83,293.99 L195.20,296.45 L195.57,297.07 L195.94,293.90 L196.31,295.72 L196.68,297.34 L197.05,296.07 L197.43,294.34 L197.80,293.99 L198.17,296.16 L198.54,295.04 L198.91,294.63 L199.28,296.46 L199.65,295.11 L200.02,295.63 L200.40,296.31 L200.77,296.25 L201.14,295.50 L201.51,295.55 L201.88,296.35 L202.25,296.16 L202.62,294.09 L202.99,295.30 L203.37,294.40 L203.74,293.97 L204.11,294.80 L204.48,292.54 L204.85,296.70 L205.22,294.50 L205.59,296.02 L205.97,293.10 L206.34,293.30 L206.71,298.22 L207.08,296.89 L207.45,294.70 L207.82,294.53 L208.19,294.60 L208.56,295.69 L208.94,294.98 L209.31,294.71 L209.68,295.69 L210.05,294.21 L210.42,298.63 L210.79,294.74 L211.16,296.98 L211.53,294.30 L211.91,295.90 L212.28,296.78 L212.65,295.09 L213.02,296.81 L213.39,296.82 L213.76,297.70 L214.13,295.63 L214.50,294.92 L214.88,294.22 L215.25,295.78 L215.62,294.18 L215.99,295.57 L216.36,295.72 L216.73,294.82 L217.10,294.17 L217.48,296.05 L217.85,295.92 L218.22,295.81 L218.59,295.48 L218.96,296.80 L219.33,294.21 L219.70,296.13 L220.07,294.97 L220.45,296.70 L220.82,295.11 L221.19,295.06 L221.56,296.16 L221.93,292.87 L222.30,295.09 L222.67,293.20 L223.04,294.30 L223.42,296.48 L223.79,296.10 L224.16,295.00 L224.53,295.51 L224.90,295.52 L225.27,295.97 L225.64,298.02 L226.01,295.89 L226.39,298.57 L226.76,295.09 L227.13,296.57 L227.50,296.55 L227.87,295.88 L228.24,295.22 L228.61,297.51 L228.99,297.94 L229.36,297.02 L229.73,298.33 L230.10,296.89 L230.47,293.45 L230.84,297.01 L231.21,294.71 L231.58,297.43 L231.96,295.19 L232.33,296.02 L232.70,295.67 L233.07,294.83 L233.44,293.23 L233.81,295.33 L234.18,295.42 L234.55,296.90 L234.93,294.81 L235.30,295.92 L235.67,294.47 L236.04,295.65 L236.41,293.25 L236.78,298.26 L237.15,295.99 L237.52,294.41 L237.90,296.06 L238.27,296.65 L238.64,295.95 L239.01,297.44 L239.38,295.43 L239.75,292.31 L240.12,294.05 L240.49,297.08 L240.87,296.76 L241.24,296.13 L241.61,294.24 L241.98,296.69 L242.35,296.52 L242.72,294.40 L243.09,294.43 L243.47,296.09 L243.84,297.09 L244.21,297.67 L244.58,296.53 L244.95,298.59 L245.32,294.58 L245.69,296.44 L246.06,294.94 L246.44,293.08 L246.81,294.01 L247.18,297.14 L247.55,294.42 L247.92,294.03 L248.29,296.59 L248.66,296.87 L249.03,295.74 L249.41,297.74 L249.78,293.61 L250.15,298.82 L250.52,297.08 L250.89,295.95 L251.26,295.90 L251.63,295.37 L252.00,295.23 L252.38,295.88 L252.75,294.06 L253.12,298.47 L253.49,295.59 L253.86,296.55 L254.23,295.41 L254.60,295.29 L254.98,296.82 L255.35,296.45 L255.72,294.52 L256.09,295.12 L256.46,296.50 L256.83,292.85 L257.20,292.49 L257.57,297.56 L257.95,295.18 L258.32,292.22 L258.69,294.54 L259.06,295.29 L259.43,295.87 L259.80,296.32 L260.17,295.88 L260.54,296.33 L260.92,294.59 L261.29,296.13 L261.66,296.18 L262.03,297.21 L262.40,295.66 L262.77,296.79 L263.14,295.83 L263.51,294.19 L263.89,295.10 L264.26,294.91 L264.63,295.11 L265.00,295.51" stroke="#ff00ff" stroke-width="1.50" stroke-dasharray="4.8 1.6 1.4 1.6"/>
<path d="M57.45,293.79 L57.82,293.90 L58.19,293.09 L58.56,294.41 L58.94,292.55 L59.31,293.48 L59.68,294.04 L60.05,293.78 L60.42,293.87 L60.79,293.12 L61.16,293.78 L61.53,292.14 L61.91,293.69 L62.28,294.90 L62.65,293.49 L63.02,294.53 L63.39,292.70 L63.76,291.60 L64.13,291.83 L64.50,293.50 L64.88,292.84 L65.25,290.34 L65.62,291.54 L65.99,291.67 L66.36,290.51 L66.73,289.01 L67.10,289.95 L67.47,290.90 L67.85,290.53 L68.22,290.12 L68.59,291.17 L68.96,291.45 L69.33,290.18 L69.70,291.01 L70.07,289.95 L70.45,289.62 L70.82,287.17 L71.19,290.23 L71.56,289.31 L71.93,289.17 L72.30,288.37 L72.67,287.56 L73.04,288.96 L73.42,289.13 L73.79,289.80 L74.16,288.88 L74.53,287.16 L74.90,287.50 L75.27,288.44 L75.64,287.58 L76.01,286.98 L76.39,286.30 L76.76,287.29 L77.13,286.76 L77.50,288.27 L77.87,287.39 L78.24,284.26 L78.61,288.19 L78.98,286.04 L79.36,285.27 L79.73,285.75 L80.10,286.06 L80.47,285.08 L80.84,284.86 L81.21,284.78 L81.58,286.58 L81.96,284.53 L82.33,285.14 L82.70,284.65 L83.07,283.65 L83.44,283.05 L83.81,282.62 L84.18,284.01 L84.55,282.31 L84.93,281.90 L85.30,281.81 L85.67,281.41 L86.04,282.99 L86.41,282.92 L86.78,281.71 L87.15,284.04 L87.52,282.19 L87.90,282.92 L88.27,282.64 L88.64,284.08 L89.01,283.05 L89.38,281.99 L89.75,280.89 L90.12,280.69 L90.49,281.81 L90.87,281.85 L91.24,282.49 L91.61,281.03 L91.98,281.68 L92.35,280.65 L92.72,279.30 L93.09,281.22 L93.46,282.79 L93.84,282.01 L94.21,282.61 L94.58,282.25 L94.95,279.37 L95.32,280.52 L95.69,282.41 L96.06,279.91 L96.44,279.16 L96.81,280.91 L97.18,281.20 L97.55,280.76 L97.92,280.00 L98.29,279.53 L98.66,278.86 L99.03,278.76 L99.41,278.72 L99.78,278.45 L100.15,279.18 L100.52,281.58 L100.89,279.93 L101.26,279.36 L101.63,280.07 L102.00,278.54 L102.38,279.90 L102.75,280.47 L103.12,277.72 L103.49,278.52 L103.86,278.95 L104.23,278.08 L104.60,277.85 L104.97,278.59 L105.35,281.68 L105.72,279.59 L106.09,279.27 L106.46,279.80 L106.83,278.39 L107.20,277.19 L107.57,279.01 L107.95,279.68 L108.32,276.03 L108.69,278.76 L109.06,279.58 L109.43,277.85 L109.80,277.57 L110.17,278.78 L110.54,277.02 L110.92,278.41 L111.29,278.84 L111.66,277.53 L112.03,276.80 L112.40,278.33 L112.77,277.19 L113.14,277.61 L113.51,274.25 L113.89,278.20 L114.26,275.79 L114.63,277.37 L115.00,277.41 L115.37,276.40 L115.74,276.17 L116.11,275.71 L116.48,276.73 L116.86,277.75 L117.23,277.65 L117.60,276.44 L117.97,276.33 L118.34,275.38 L118.71,276.48 L119.08,275.73 L119.46,275.20 L119.83,276.72 L120.20,278.59 L120.57,278.24 L120.94,278.53 L121.31,275.10 L121.68,277.88 L122.05,275.54 L122.43,276.29 L122.80,275.04 L123.17,275.88 L123.54,277.17 L123.91,277.32 L124.28,277.04 L124.65,276.99 L125.02,277.85 L125.40,277.34 L125.77,275.54 L126.14,279.36 L126.51,277.21 L126.88,278.60 L127.25,277.44 L127.62,276.78 L127.99,277.88 L128.37,277.02 L128.74,279.79 L129.11,276.82 L129.48,278.85 L129.85,277.56 L130.22,278.15 L130.59,281.39 L130.97,279.41 L131.34,278.41 L131.71,277.00 L132.08,278.54 L132.45,278.68 L132.82,280.68 L133.19,277.56 L133.56,277.24 L133.94,279.37 L134.31,279.76 L134.68,281.45 L135.05,278.72 L135.42,276.77 L135.79,279.13 L136.16,278.61 L136.53,279.54 L136.91,281.37 L137.28,278.85 L137.65,281.86 L138.02,280.81 L138.39,280.35 L138.76,279.77 L139.13,280.39 L139.50,280.52 L139.88,281.92 L140.25,282.60 L140.62,281.16 L140.99,282.12 L141.36,282.88 L141.73,282.92 L142.10,282.11 L142.47,283.73 L142.85,283.23 L143.22,283.63 L143.59,281.63 L143.96,281.44 L144.33,279.69 L144.70,283.73 L145.07,282.86 L145.45,281.12 L145.82,282.46 L146.19,282.64 L146.56,280.38 L146.93,282.76 L147.30,283.74 L147.67,283.98 L148.04,282.16 L148.42,282.25 L148.79,284.20 L149.16,283.82 L149.53,282.15 L149.90,282.15 L150.27,283.59 L150.64,282.21 L151.01,282.32 L151.39,285.04 L151.76,283.43 L152.13,282.66 L152.50,283.84 L152.87,285.67 L153.24,283.63 L153.61,282.51 L153.98,281.64 L154.36,285.97 L154.73,280.59 L155.10,284.90 L155.47,282.61 L155.84,282.36 L156.21,282.72 L156.58,283.74 L156.96,285.31 L157.33,283.36 L157.70,284.96 L158.07,287.10 L158.44,281.12 L158.81,283.62 L159.18,282.45 L159.55,285.64 L159.93,283.05 L160.30,283.03 L160.67,283.20 L161.04,285.13 L161.41,286.63 L161.78,285.64 L162.15,288.12 L162.52,287.74 L162.90,285.91 L163.27,287.35 L163.64,286.63 L164.01,286.78 L164.38,284.70 L164.75,285.64 L165.12,287.40 L165.49,286.21 L165.87,288.70 L166.24,288.43 L166.61,287.25 L166.98,289.91 L167.35,289.05 L167.72,290.45 L168.09,289.03 L168.47,287.52 L168.84,290.42 L169.21,289.50 L169.58,290.95 L169.95,291.40 L170.32,291.65 L170.69,288.74 L171.06,287.85 L171.44,290.12 L171.81,291.62 L172.18,290.15 L172.55,291.47 L172.92,290.32 L173.29,291.04 L173.66,291.19 L174.03,290.96 L174.41,292.44 L174.78,292.37 L175.15,294.00 L175.52,292.68 L175.89,293.91 L176.26,292.59 L176.63,293.63 L177.00,292.54 L177.38,292.25 L177.75,294.48 L178.12,293.89 L178.49,294.13 L178.86,292.30 L179.23,291.29 L179.60,292.33 L179.98,293.76 L180.35,291.76 L180.72,295.19 L181.09,291.81 L181.46,294.29 L181.83,296.72 L182.20,290.58 L182.57,291.81 L182.95,294.78 L183.32,293.44 L183.69,293.88 L184.06,293.54 L184.43,295.35 L184.80,294.45 L185.17,293.16 L185.54,293.46 L185.92,292.36 L186.29,293.64 L186.66,291.08 L187.03,294.57 L187.40,293.47 L187.77,295.95 L188.14,295.21 L188.51,292.29 L188.89,294.88 L189.26,293.22 L189.63,293.90 L190.00,295.02 L190.37,294.24 L190.74,294.44 L191.11,294.42 L191.48,293.02 L191.86,293.14 L192.23,294.54 L192.60,294.92 L192.97,293.58 L193.34,294.02 L193.71,292.75 L194.08,290.91 L194.46,292.97 L194.83,293.97 L195.20,294.14 L195.57,294.92 L195.94,294.98 L196.31,295.09 L196.68,294.41 L197.05,294.45 L197.43,293.12 L197.80,294.42 L198.17,294.20 L198.54,295.36 L198.91,292.12 L199.28,293.41 L199.65,291.96 L200.02,293.08 L200.40,292.30 L200.77,294.27 L201.14,293.18 L201.51,290.92 L201.88,295.38 L202.25,292.66 L202.62,292.07 L202.99,293.52 L203.37,293.12 L203.74,292.53 L204.11,294.74 L204.48,293.49 L204.85,294.96 L205.22,294.72 L205.59,294.63 L205.97,294.06 L206.34,293.71 L206.71,293.33 L207.08,295.47 L207.45,291.50 L207.82,292.43 L208.19,292.90 L208.56,294.13 L208.94,293.79 L209.31,293.02 L209.68,293.14 L210.05,295.54 L210.42,292.69 L210.79,290.13 L211.16,295.63 L211.53,292.29 L211.91,292.99 L212.28,293.51 L212.65,291.75 L213.02,294.69 L213.39,293.09 L213.76,291.54 L214.13,293.44 L214.50,293.67 L214.88,293.02 L215.25,293.64 L215.62,291.30 L215.99,294.13 L216.36,292.03 L216.73,294.48 L217.10,292.22 L217.48,293.10 L217.85,295.97 L218.22,292.95 L218.59,294.18 L218.96,293.44 L219.33,291.12 L219.70,294.21 L220.07,294.14 L220.45,291.22 L220.82,292.77 L221.19,291.13 L221.56,292.58 L221.93,294.02 L222.30,293.11 L222.67,291.65 L223.04,292.05 L223.42,293.21 L223.79,293.23 L224.16,293.49 L224.53,294.12 L224.90,291.29 L225.27,293.63 L225.64,295.06 L226.01,294.40 L226.39,293.11 L226.76,293.32 L227.13,294.34 L227.50,295.08 L227.87,294.39 L228.24,296.50 L228.61,296.19 L228.99,293.86 L229.36,295.48 L229.73,294.61 L230.10,293.75 L230.47,294.53 L230.84,295.39 L231.21,293.05 L231.58,294.87 L231.96,296.18 L232.33,295.03 L232.70,295.54 L233.07,297.14 L233.44,296.19 L233.81,296.61 L234.18,298.86 L234.55,296.91 L234.93,297.19 L235.30,297.53 L235.67,299.09 L236.04,297.74 L236.41,297.54 L236.78,297.54 L237.15,299.14 L237.52,297.25 L237.90,299.57 L238.27,298.58 L238.64,296.96 L239.01,299.46 L239.38,299.42 L239.75,297.74 L240.12,299.60 L240.49,299.67 L240.87,299.23 L241.24,298.42 L241.61,302.37 L241.98,300.93 L242.35,301.29 L242.72,301.54 L243.09,301.43 L243.47,301.58 L243.84,300.42 L244.21,301.98 L244.58,300.97 L244.95,300.82 L245.32,302.31 L245.69,301.48 L246.06,299.90 L246.44,301.61 L246.81,302.89 L247.18,302.40 L247.55,303.56 L247.92,302.34 L248.29,301.82 L248.66,303.93 L249.03,303.38 L249.41,302.00 L249.78,304.02 L250.15,303.37 L250.52,304.91 L250.89,304.81 L251.26,304.58 L251.63,301.64 L252.00,304.68 L252.38,304.92 L252.75,305.06 L253.12,304.71 L253.49,303.87 L253.86,304.49 L254.23,302.47 L254.60,304.66 L254.98,303.35 L255.35,304.77 L255.72,304.49 L256.09,306.90 L256.46,305.49 L256.83,305.51 L257.20,305.79 L257.57,308.04 L257.95,304.68 L258.32,306.20 L258.69,306.33 L259.06,306.20 L259.43,306.24 L259.80,305.59 L260.17,307.56 L260.54,307.24 L260.92,305.92 L261.29,306.14 L261.66,306.79 L262.03,307.06 L262.40,307.41 L262.77,306.58 L263.14,305.22 L263.51,307.79 L263.89,304.90 L264.26,305.71 L264.63,307.21 L265.00,305.83" stroke="#009a00" stroke-width="1.50" stroke-dasharray="1.4 1.1"/>
</g>
<g stroke="#262626" stroke-width="0.67" fill="none">
<rect x="57.45" y="264.30" width="207.55" height="84.00"/>
<path d="M98.96,348.30 v-2.20 M98.96,264.30 v2.20 M140.47,348.30 v-2.20 M140.47,264.30 v2.20 M181.98,348.30 v-2.20 M181.98,264.30 v2.20 M223.49,348.30 v-2.20 M223.49,264.30 v2.20 M57.45,306.30 h2.20 M265.00,306.30 h-2.20 "/>
</g>
<text x="53.25" y="351.80" font-size="11.5" text-anchor="end">-1.572</text>
<text x="53.25" y="309.80" font-size="11.5" text-anchor="end">-1.571</text>
<text x="53.25" y="267.80" font-size="11.5" text-anchor="end">-1.57</text>
<text x="57.45" y="363.20" font-size="11.5" text-anchor="middle">0</text>
<text x="98.96" y="363.20" font-size="11.5" text-anchor="middle">2</text>
<text x="140.47" y="363.20" font-size="11.5" text-anchor="middle">4</text>
<text x="181.98" y="363.20" font-size="11.5" text-anchor="middle">6</text>
<text x="223.49" y="363.20" font-size="11.5" text-anchor="middle">8</text>
<text x="265.00" y="363.20" font-size="11.5" text-anchor="middle">10</text>
<text x="161.22" y="379.30" font-size="13.5" text-anchor="middle" letter-spacing="-0.15">Time [s]</text>
<text transform="translate(15.35,307.30) rotate(-90)" font-size="13.5" text-anchor="middle"><tspan font-style="italic">q</tspan><tspan font-size="9" dy="2.5">5</tspan><tspan dy="-2.5"> [rad]</tspan></text>
<rect x="173.50" y="4.60" width="240.60" height="17.00" fill="#fff" stroke="#262626" stroke-width="0.67"/>
<g fill="none" stroke-width="1.6">
<path d="M177.2,12.80 H205.4" stroke="#ff0000"/>
<path d="M249.7,12.80 H273 M277.3,12.80 h1.3" stroke="#0000ff" stroke-dasharray="7.2 8.1"/>
<path d="M307.6,12.80 H335.5" stroke="#ff00ff" stroke-dasharray="4.8 0.95 0.95 0.95"/>
<path d="M362.2,12.80 H390.7" stroke="#009a00" stroke-dasharray="1.2 1.3"/>
</g>
<text x="208.30" y="16.20" font-size="12.3">desired</text>
<text x="281.50" y="16.20" font-size="12.3">PID</text>
<text x="340.00" y="16.20" font-size="12.3">BR</text>
<text x="393.80" y="16.20" font-size="12.3">LM</text>
<text x="286.8" y="407.0" font-size="12.6" font-weight="bold" text-anchor="middle" style="font-family:'Liberation Sans','DejaVu Sans',sans-serif;fill:#111">(a)</text>
</svg></body></html>
